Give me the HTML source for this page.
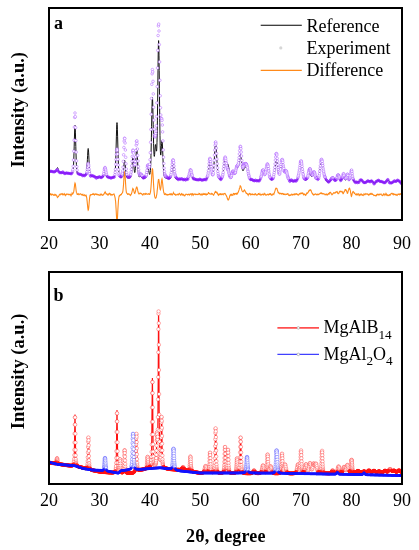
<!DOCTYPE html>
<html><head><meta charset="utf-8"><style>
html,body{margin:0;padding:0;background:#fff;width:419px;height:550px;overflow:hidden}
svg{display:block}
</style></head><body>
<svg width="419" height="550" viewBox="0 0 419 550">
<defs><marker id="mE" markerWidth="6" markerHeight="6" refX="3" refY="3" markerUnits="userSpaceOnUse"><circle cx="3" cy="3" r="1.3" fill="#fff" stroke="#8c1aff" stroke-width="0.35"/></marker><marker id="mE2" markerWidth="6" markerHeight="6" refX="3" refY="3" markerUnits="userSpaceOnUse"><circle cx="3" cy="3" r="1.0" fill="none" stroke="#8c1aff" stroke-width="0.35"/></marker><marker id="mR" markerWidth="6" markerHeight="6" refX="3" refY="3" markerUnits="userSpaceOnUse"><circle cx="3" cy="3" r="1.7" fill="#fff" stroke="#ff1010" stroke-width="0.35"/></marker><marker id="mR2" markerWidth="6" markerHeight="6" refX="3" refY="3" markerUnits="userSpaceOnUse"><circle cx="3" cy="3" r="1.4" fill="none" stroke="#ff1010" stroke-width="0.4"/></marker><marker id="mB" markerWidth="6" markerHeight="6" refX="3" refY="3" markerUnits="userSpaceOnUse"><circle cx="3" cy="3" r="1.7" fill="#fff" stroke="#1010ff" stroke-width="0.3"/></marker><marker id="mB2" markerWidth="6" markerHeight="6" refX="3" refY="3" markerUnits="userSpaceOnUse"><circle cx="3" cy="3" r="0.85" fill="none" stroke="#1010ff" stroke-width="0.35"/></marker><clipPath id="ca"><rect x="50" y="9" width="351" height="210"/></clipPath><clipPath id="cb"><rect x="50" y="273" width="351" height="210"/></clipPath></defs>
<g clip-path="url(#ca)" fill="none">
<path stroke="#ff8a1a" stroke-width="1.1" d="M49.2,194.5l.2-.1 .2-.1 .2-.5 .2,.1 .2-.1 .2-.1 .2,.8 .2,.1 .2,.3 .2,0 .2,.1 .2-.9 .2-.1 .2,.1 .2,0 .2,.4 .2,.1 .2,.1 .2,.2 .2,.2 .2-.3 .2,0 .2,.1 .2,.1 .2-.2 .2,.1 .2,.2 .2-.2 .2-.5 .2,.3 .2,.2 .2-.1 .2,.4 .2-.3 .2,.3 .2,0 .2,0 .2,.4 .2,1.2 .2,0 .2,.2 .2,.4 .2-.3 .2-.2 .2-.2 .2-.2 .2-.2 .2-.4 .2-.7 .2-.2 .2-.1 .2-.3 .2-.2 .2,.3 .2-.7 .2,0 .2,.2 .2-.2 .2,0 .2,.3 .2,0 .2-.5 .2,.1 .2,.1 .2,.4 .2-.5 .2,.3 .2,.2 .2-.3 .2,.1 .2,.2 .2,.2 .2-.3 .2,.4 .2-.3 .2,.2 .2-.5 .2,.6 .2-.1 .2,.1 .2,.3 .2,.4 .2-.4 .2-.4 .2-.3 .2,.1 .2-.4 .2,0 .2,.1 .2,.2 .2-.1 .2,0 .2-.2 .2,0 .2,.2 .2,.1 .2,.3 .2,.2 .2,.1 .2-.3 .2,0 .2-.2 .2,.1 .2-.1 .2,.1 .2-.1 .2,.7 .2,.2 .2,.4 .2-.6 .2-.1 .2-.6 .2-.3 .2-.7 .2,.6 .2,.2 .2-.2 .2-.4 .2,0 .2-.6 .2-.6 .2-.2 .2-1 .2-1.2 .2-1.7 .2-1.6 .2-1.9 .2-.9 .2-.8 .2,.4 .2,.6 .2,1.9 .2,1.6 .2,1.9 .2,1.5 .2,1.4 .2,.4 .2,.3 .2,.5 .2,.8 .2,0 .2,.1 .2,0 .2-.3 .2-.4 .2,.2 .2,.2 .2,.3 .2,.3 .2-.1 .2-.4 .2-.1 .2-.1 .2-.1 .2-.2 .2,.2 .2,0 .2,.2 .2,.1 .2,0 .2,.4 .2,.2 .2,.1 .2-.3 .2,.2 .2-.2 .2-.1 .2-.2 .2,.7 .2,0 .2,.1 .2,.3 .2-.2 .2-.2 .2,0 .2-.2 .2,.2 .2,.3 .2,.4 .2-.1 .2,.1 .2-.3 .2,0 .2-.3 .2,.4 .2,.6 .2,1.1 .2,.9 .2,1.9 .2,1.8 .2,2.1 .2,1.9 .2,2 .2,1.4 .2,.8 .2-.3 .2-1.2 .2-1.6 .2-2.4 .2-2.4 .2-2.1 .2-2 .2-1.4 .2-1.2 .2-.4 .2-.3 .2,.4 .2-.3 .2,.1 .2-.1 .2-.2 .2-.2 .2,0 .2,.1 .2-.2 .2,0 .2,0 .2-.5 .2,0 .2-.2 .2,.4 .2,.3 .2,0 .2,0 .2,.3 .2-.5 .2-.1 .2,.3 .2-.4 .2-.1 .2,.2 .2-.1 .2-.1 .2,.5 .2,.1 .2-.2 .2-.1 .2,.2 .2-.2 .2,.2 .2,.3 .2-.1 .2-.2 .2,.1 .2,.1 .2,0 .2,.2 .2,.3 .2,0 .2,0 .2-.1 .2,.1 .2-.1 .2,.2 .2-.7 .2,.4 .2-.2 .2,0 .2-.3 .2,.1 .2-.3 .2,.3 .2,.1 .2,.4 .2,.3 .2-.1 .2-.1 .2,0 .2-.3 .2-.1 .2,.1 .2-.3 .2-.5 .2-.1 .2-.1 .2-.7 .2-.4 .2-.2 .2,.1 .2-.7 .2,.3 .2,.6 .2,.2 .2,.5 .2,.7 .2,.1 .2,0 .2,0 .2-.3 .2,.3 .2,0 .2,.3 .2,.3 .2,.3 .2-.3 .2-.3 .2-.5 .2,.1 .2-.4 .2-.3 .2,.5 .2,0 .2-.3 .2,.1 .2,.4 .2-.2 .2,.4 .2,.6 .2,.2 .2-.4 .2-.2 .2-.2 .2-.1 .2,.1 .2,.3 .2,.2 .2,.1 .2-.2 .2-.1 .2-.4 .2-.2 .2-.1 .2,0 .2-.1 .2,.5 .2,.4 .2,1 .2,.8 .2,.7 .2,1.1 .2,1.6 .2,1.4 .2,2.9 .2,3.3 .2,3.1 .2,4 .2,3.4 .2,1.4 .2,0 .2,0 .2-.8 .2-3.5 .2-4.2 .2-3.4 .2-3.1 .2-3.2 .2-1.9 .2-1.4 .2-1.5 .2-.6 .2-.3 .2,.2 .2-.4 .2-.1 .2-.1 .2-.3 .2-.4 .2,0 .2,.3 .2-.3 .2,0 .2-.7 .2-.3 .2-.1 .2-.2 .2-.5 .2-.3 .2-.7 .2-1.5 .2-2 .2-2.1 .2-2.5 .2-3.2 .2-3.3 .2-2.3 .2-2 .2-.8 .2,.4 .2,2.1 .2,2.6 .2,3.1 .2,3.4 .2,3.1 .2,2.6 .2,1.8 .2,1.4 .2,.3 .2,.5 .2,.2 .2,.1 .2,.3 .2,.4 .2-.1 .2-.3 .2,.3 .2-.1 .2,0 .2-.2 .2,.2 .2,0 .2,.1 .2,0 .2,.5 .2,.3 .2-.1 .2,0 .2,.4 .2-.3 .2-.3 .2-.6 .2-.2 .2-.7 .2-.3 .2-1.3 .2-.5 .2-1 .2-.8 .2-.8 .2,.3 .2,.2 .2,.2 .2,.7 .2,.9 .2,.9 .2,.6 .2,.7 .2,.4 .2,.1 .2-.6 .2-.6 .2-.5 .2-1 .2-1.2 .2-.8 .2-.5 .2-.9 .2-.1 .2-.2 .2,.5 .2,.3 .2,.9 .2,.9 .2,1.2 .2,.6 .2,.8 .2,.8 .2,.2 .2,.2 .2,.5 .2-.1 .2-.3 .2-.2 .2,0 .2-.2 .2,.3 .2-.1 .2,.1 .2,0 .2-.2 .2,.1 .2,.4 .2,.1 .2,0 .2,.2 .2,.3 .2,.5 .2,.1 .2,.1 .2-.4 .2-.3 .2-.5 .2-.2 .2,.2 .2,.1 .2-.1 .2,0 .2,0 .2,0 .2,.5 .2-.2 .2-.3 .2,.3 .2-.2 .2-.5 .2,.2 .2,.2 .2-.2 .2,0 .2,.2 .2,.3 .2,.1 .2,0 .2,0 .2,.1 .2-.2 .2-.4 .2,.1 .2-.1 .2,.1 .2,0 .2,.3 .2-.1 .2,.2 .2-.6 .2-.5 .2-.8 .2-1.3 .2-1.9 .2-2.2 .2-2.6 .2-2.8 .2-3.5 .2-3.5 .2-3 .2-2 .2-1.3 .2,.7 .2,2 .2,3.2 .2,3.4 .2,3.7 .2,3.3 .2,3.1 .2,2.7 .2,2.1 .2,1.8 .2,1.7 .2,.9 .2,.5 .2,.6 .2,.3 .2,0 .2-.4 .2-.2 .2-.4 .2-1.1 .2-1 .2-.9 .2-1.5 .2-2.2 .2-1.5 .2-2.1 .2-2 .2-2.1 .2-1.6 .2-1.6 .2-.1 .2-.1 .2,1 .2,1.7 .2,1.5 .2,1.9 .2,1.8 .2,1.2 .2,1 .2,.2 .2-.8 .2-.8 .2-1.2 .2-2.3 .2-2.2 .2-1.7 .2-1.2 .2-.6 .2,.8 .2,1.9 .2,1.6 .2,1.7 .2,2.1 .2,1.9 .2,1.4 .2,1.3 .2,.9 .2,.4 .2,.6 .2,.8 .2,.1 .2-.4 .2,.1 .2-.2 .2-.2 .2,.4 .2,.3 .2-.1 .2,.2 .2-.4 .2,0 .2,.1 .2,.4 .2-.1 .2,.4 .2-.1 .2-.1 .2-.1 .2-.2 .2,0 .2,0 .2,.2 .2-.2 .2-.2 .2-.1 .2-.1 .2-.1 .2,.4 .2,.2 .2,0 .2-.4 .2,.2 .2-.2 .2-.4 .2,.2 .2,.5 .2-.1 .2-.1 .2,.7 .2-.1 .2-.6 .2-.2 .2-.1 .2-.5 .2-.7 .2,.5 .2,0 .2,.2 .2,.1 .2,.7 .2-.1 .2,.1 .2,.1 .2,.3 .2-.2 .2,.4 .2,.2 .2-.2 .2,0 .2-.1 .2-.1 .2-.1 .2,.2 .2-.6 .2,0 .2,0 .2,.2 .2-.1 .2,.2 .2,.2 .2-.5 .2-.2 .2-.1 .2,0 .2-.3 .2,.3 .2,.2 .2,0 .2,.5 .2,.3 .2,.3 .2,0 .2-.1 .2-.6 .2-.2 .2-.7 .2-.1 .2,.2 .2,.6 .2,.3 .2,.3 .2,.2 .2-.3 .2-.2 .2-.2 .2,.3 .2,.4 .2,.4 .2,.3 .2,.1 .2-.3 .2-.2 .2,.1 .2-.6 .2,0 .2-.2 .2-.3 .2-.2 .2,.1 .2-.1 .2,0 .2,.1 .2,0 .2,.1 .2,.2 .2,0 .2,.3 .2-.2 .2-.1 .2,.1 .2-.2 .2-.4 .2,0 .2,.1 .2,.2 .2,.5 .2-.4 .2,0 .2,0 .2-.3 .2-.3 .2,0 .2,.2 .2,0 .2,0 .2-.1 .2,.7 .2-.7 .2-.2 .2,.5 .2,.3 .2-.3 .2,.3 .2,.4 .2-.7 .2,.1 .2-.1 .2,.1 .2-.1 .2-.1 .2-.1 .2-.1 .2,.2 .2-.1 .2,.4 .2,.1 .2-.1 .2,0 .2-.2 .2,0 .2,0 .2,.2 .2,.1 .2-.1 .2,0 .2-.2 .2,0 .2,.3 .2-.1 .2-.2 .2-.1 .2-.1 .2-.6 .2,.2 .2-.1 .2,.3 .2,.4 .2,.4 .2,.2 .2,.1 .2-.1 .2-.5 .2-.4 .2-.1 .2,.3 .2,.2 .2,0 .2,.7 .2-.1 .2-.4 .2-.4 .2,0 .2-.4 .2,.5 .2,.1 .2,0 .2,.1 .2,0 .2-.8 .2,.1 .2,.3 .2,.2 .2,.2 .2,.1 .2-.4 .2,.1 .2,.2 .2-.5 .2,.3 .2,.4 .2-.2 .2-.2 .2,.2 .2,0 .2,0 .2-.2 .2-.4 .2-.6 .2-.3 .2-.4 .2,0 .2,.4 .2,.5 .2,0 .2,.3 .2,.1 .2-.3 .2,.1 .2,.2 .2,.1 .2,.1 .2,.1 .2,.1 .2-.2 .2-.2 .2-.4 .2,.3 .2-.3 .2,.2 .2,0 .2,.4 .2,.3 .2,.2 .2,.2 .2,.3 .2,.1 .2-.5 .2-.5 .2-.2 .2-.3 .2-.9 .2-.3 .2-.2 .2-.4 .2-.3 .2,.5 .2,.3 .2,0 .2-.1 .2,.3 .2-.5 .2,0 .2,.5 .2,.4 .2,.1 .2,.7 .2,.4 .2,.4 .2,.2 .2,.4 .2-.2 .2-.2 .2-.5 .2,.2 .2-.4 .2-.1 .2,0 .2,.3 .2-.5 .2,.2 .2,.2 .2,.1 .2-.3 .2,.3 .2,0 .2,.3 .2,0 .2-.1 .2-.5 .2,.1 .2-.1 .2-.1 .2,.4 .2,.3 .2-.4 .2-.2 .2-.1 .2-.1 .2-.2 .2,.2 .2-.2 .2,.1 .2-.2 .2,.3 .2,.1 .2,.6 .2,.2 .2,.4 .2,.3 .2,.4 .2,.6 .2,.2 .2,.5 .2,.8 .2,.9 .2,0 .2,.8 .2,.4 .2,0 .2-.4 .2,.1 .2-.5 .2-.3 .2-.9 .2-.3 .2-1 .2-.7 .2-.6 .2-.2 .2-.4 .2-.2 .2,.5 .2-.2 .2-.2 .2-.1 .2,.4 .2-.6 .2,.1 .2,.6 .2,.2 .2-.2 .2,0 .2,0 .2-.7 .2-.8 .2-.2 .2-.1 .2,.2 .2,.3 .2,.4 .2-.2 .2,.3 .2-.6 .2-.2 .2,0 .2,.2 .2-.2 .2,.1 .2,.2 .2,.3 .2-.5 .2,.4 .2-.1 .2-.1 .2-.6 .2,.2 .2-.6 .2-.3 .2-.4 .2-.1 .2-.8 .2-.6 .2-.5 .2-.7 .2-.9 .2-.5 .2-.6 .2-.8 .2-.7 .2,.2 .2,.1 .2,.4 .2,.5 .2,1 .2,.7 .2,.6 .2,.7 .2,.6 .2,.5 .2,.1 .2,.1 .2,.3 .2,.2 .2-.4 .2-.3 .2-.1 .2-.5 .2-.1 .2-.2 .2-.3 .2,.6 .2,.3 .2,0 .2,.2 .2,.7 .2,.1 .2,.5 .2,.6 .2,.2 .2,.1 .2-.1 .2,.2 .2,.1 .2,0 .2,.8 .2,0 .2,.2 .2,.1 .2,.6 .2-.5 .2-.4 .2-.3 .2,0 .2-.4 .2-.2 .2,.1 .2,.5 .2-.1 .2,0 .2,.2 .2,.5 .2-.5 .2-.1 .2,.2 .2,.1 .2,.3 .2,.2 .2,0 .2,0 .2-.2 .2-.5 .2,.2 .2,0 .2,0 .2,.2 .2,.1 .2-.1 .2,.1 .2,0 .2-.1 .2,.1 .2-.6 .2-.1 .2-.2 .2,.1 .2,.2 .2,.4 .2,0 .2,.5 .2,0 .2,.1 .2,.1 .2,0 .2-.3 .2-.1 .2-.1 .2,0 .2-.2 .2-.3 .2-.5 .2,0 .2,.2 .2,.4 .2,.2 .2,0 .2,.2 .2-.1 .2-.6 .2,.5 .2,.3 .2,.1 .2,0 .2,.4 .2-.1 .2-.2 .2-.3 .2-.2 .2-.1 .2-.2 .2-.1 .2,.1 .2,.4 .2,.1 .2,.4 .2,0 .2-.2 .2-.4 .2-.3 .2-.6 .2,.3 .2,.2 .2-.1 .2,0 .2,.7 .2,0 .2,.2 .2,.4 .2,0 .2-.2 .2,0 .2,0 .2-.3 .2-.2 .2,0 .2,0 .2-.2 .2,.3 .2,.2 .2-.2 .2,.4 .2,0 .2-.5 .2-.3 .2,.3 .2-.1 .2-.6 .2,0 .2,.3 .2-.5 .2,0 .2,.5 .2,.3 .2-.2 .2,.3 .2,.3 .2-.2 .2,.1 .2,.5 .2-.1 .2-.4 .2-.1 .2-.5 .2-.2 .2,0 .2,.1 .2,.2 .2,.2 .2-.6 .2-.7 .2-.6 .2-.5 .2-.7 .2-.7 .2-.4 .2-.8 .2-.6 .2-.6 .2,0 .2-.1 .2,.3 .2,.3 .2,.2 .2-.1 .2,.5 .2,.7 .2,.6 .2,.7 .2,1.1 .2,.3 .2-.1 .2-.1 .2,.4 .2,0 .2,.6 .2,.1 .2,.1 .2,.2 .2,0 .2-.6 .2,0 .2-.1 .2,0 .2,.2 .2,.2 .2,.1 .2,.3 .2-.3 .2-.3 .2-.1 .2,.1 .2,.2 .2,0 .2,.4 .2,.5 .2-.1 .2-.4 .2,.3 .2,.1 .2-.4 .2,.3 .2,.2 .2,0 .2-.1 .2,.2 .2-.3 .2-.1 .2,0 .2-.1 .2,0 .2,.3 .2,0 .2,0 .2,0 .2-.4 .2-.2 .2-.1 .2-.1 .2,.1 .2,.5 .2,.3 .2,.6 .2,.3 .2,0 .2,.1 .2,.1 .2-.4 .2-.2 .2,.3 .2-.3 .2-.1 .2,.2 .2,.1 .2-.3 .2,0 .2-.2 .2,0 .2-.5 .2,.2 .2,.1 .2,.2 .2-.1 .2,.4 .2-.2 .2-.4 .2-.2 .2,0 .2,.1 .2-.1 .2,.4 .2-.2 .2-.2 .2-.2 .2,.5 .2-.4 .2-.1 .2,.3 .2-.1 .2-.4 .2-.1 .2,.3 .2-.1 .2,.2 .2-.1 .2,.6 .2,.1 .2-.1 .2,0 .2,.3 .2,0 .2,.2 .2-.1 .2-.3 .2-.1 .2-.7 .2-.1 .2-.2 .2,.4 .2,0 .2-.1 .2,0 .2-.3 .2-.5 .2,.1 .2,0 .2-.1 .2,.5 .2,.1 .2-.1 .2-.2 .2-.3 .2,.3 .2,0 .2,0 .2,.6 .2,.6 .2-.3 .2,.1 .2,.2 .2-.5 .2-.1 .2,.2 .2,.1 .2,.2 .2,.3 .2,.3 .2,.2 .2-.4 .2,0 .2-.4 .2-.7 .2-.3 .2,.1 .2-.4 .2,.3 .2-.1 .2-.5 .2-.1 .2,0 .2-.5 .2-.6 .2-.3 .2-.5 .2-.3 .2-.3 .2,.2 .2,.2 .2-.2 .2-.4 .2,0 .2-.2 .2,0 .2,.5 .2,0 .2,.5 .2,.7 .2,.6 .2,.1 .2,.6 .2,.5 .2,.3 .2-.1 .2,.4 .2,.4 .2-.2 .2,.1 .2,.7 .2,.1 .2-.3 .2-.1 .2-.2 .2-.2 .2,0 .2-.2 .2,0 .2,.1 .2-.1 .2-.1 .2,.4 .2,.1 .2,0 .2,0 .2,.3 .2-.3 .2,.1 .2,0 .2-.4 .2-.1 .2,.2 .2,.2 .2-.1 .2,.2 .2-.1 .2-.3 .2-.3 .2,.1 .2,0 .2-.3 .2,0 .2-.5 .2,0 .2-.2 .2,.2 .2-.2 .2,.3 .2-.1 .2,.3 .2-.3 .2,.4 .2,.1 .2-.2 .2,0 .2,.3 .2-.2 .2,0 .2,.3 .2-.1 .2,.1 .2-.1 .2,.1 .2,.1 .2,.3 .2,0 .2,.5 .2,.1 .2-.3 .2-.1 .2-.2 .2-.2 .2,.3 .2,.1 .2-.1 .2,.6 .2,0 .2-.2 .2,.2 .2,0 .2-.5 .2,0 .2-.6 .2,.1 .2-.3 .2-.3 .2-.1 .2,.4 .2-.7 .2,.2 .2-.2 .2-.4 .2-.3 .2,0 .2,.1 .2,.4 .2,.3 .2,.7 .2,.4 .2,.1 .2,0 .2,.4 .2-.3 .2-.1 .2-.1 .2-.2 .2-.5 .2-.2 .2-.2 .2-.2 .2-.3 .2,0 .2,.2 .2,.2 .2,.2 .2-.1 .2,0 .2-.2 .2-.7 .2,0 .2,0 .2,.1 .2-.5 .2,0 .2,.1 .2-.2 .2-.1 .2,.5 .2,.5 .2-.1 .2,.7 .2,.4 .2,.2 .2,0 .2-.2 .2-.2 .2-.6 .2-.3 .2-.7 .2,0 .2-.5 .2,0 .2-.1 .2,.2 .2,0 .2,.5 .2,.1 .2,0 .2,0 .2-.2 .2-.5 .2,0 .2,.2 .2,.6 .2,.5 .2,.4 .2,.6 .2,0 .2-.2 .2-.5 .2-.2 .2-.8 .2-.2 .2-.3 .2-.5 .2-.6 .2,.1 .2-.9 .2,0 .2,.2 .2,.4 .2-.1 .2,.4 .2,.3 .2,.5 .2,.5 .2,.4 .2,1 .2,.1 .2,.1 .2-.7 .2-.6 .2-1.1 .2-.6 .2-.6 .2-.5 .2-.6 .2,0 .2-.1 .2-.2 .2,.7 .2,.9 .2,.1 .2,1 .2,1.4 .2,1.2 .2,.8 .2,1.7 .2,.3 .2-.4 .2-.7 .2-.8 .2-1.1 .2-.5 .2-.7 .2-.2 .2-.3 .2-.2 .2,.3 .2,.3 .2,.3 .2,.4 .2,.4 .2-.1 .2,.3 .2-.1 .2,.3 .2,.4 .2,.3 .2,.1 .2,.3 .2,.2 .2-.3 .2-.5 .2,.3 .2,.2 .2-.2 .2,.3 .2,.1 .2-.5 .2-.2 .2-.3 .2,.1 .2,0 .2,.4 .2,.3 .2,.7 .2-.2 .2,.3 .2-.3 .2-.5 .2-.3 .2,.4 .2-.3 .2,.3 .2,.1 .2-.3 .2-.3 .2,.4 .2-.1 .2,.1 .2,.4 .2-.1 .2-.1 .2,.3 .2,.2 .2,.1 .2,.1 .2-.4 .2-.4 .2-.5 .2-.4 .2,.3 .2,.4 .2,0 .2,.3 .2-.1 .2-.2 .2-.5 .2-.2 .2-.2 .2,.3 .2,0 .2,.1 .2,.1 .2,0 .2-.1 .2,.1 .2-.2 .2,.3 .2,.1 .2,.4 .2,.1 .2,.3 .2-.2 .2-.4 .2-.3 .2,.1 .2,.3 .2-.4 .2,.2 .2,0 .2-.5 .2-.3 .2,.5 .2,0 .2,.1 .2-.1 .2-.2 .2-.2 .2,.3 .2-.4 .2,.3 .2,.4 .2,.1 .2,0 .2,.2 .2,.1 .2,.1 .2,.4 .2,0 .2,.4 .2-.1 .2-.1 .2-.1 .2-.1 .2,0 .2,.2 .2,.4 .2,.1 .2-.2 .2,0 .2,0 .2-.3 .2-.5 .2,.3 .2-.6 .2-.3 .2-.2 .2,.1 .2,0 .2,.4 .2,.2 .2,.1 .2-.5 .2-.1 .2-.1 .2,0 .2,.4 .2,.3 .2-.1 .2-.5 .2,.1 .2-.3 .2-.1 .2,.1 .2,.2 .2-.2 .2,.4 .2,.3 .2,.1 .2,.4 .2,.2 .2-.3 .2,.3 .2-.2 .2,0 .2-.2 .2-.1 .2-1 .2-.3 .2,.1 .2,.4 .2,0 .2,.4 .2,.5 .2-.5 .2,.1 .2-.1 .2-.2 .2-.6 .2,.5 .2-.4 .2,.5 .2,0 .2,.6 .2-.3 .2,.1 .2,0 .2,.7 .2,.2 .2-.1 .2,.1 .2-.1 .2-.3 .2-.2 .2,.2 .2-.4 .2-.2 .2,.2 .2-.3 .2-.1 .2,.4 .2-.4 .2-.3 .2-.2 .2-.1 .2-.4 .2,.1 .2-.1 .2,.3 .2,0 .2-.2 .2,.5 .2,.1 .2-.2 .2-.1 .2,.6 .2-.5 .2-.1 .2,.2 .2,.2 .2-.2 .2,.3 .2,.1 .2,.1 .2,.1 .2,.2 .2-.4 .2,0 .2,.1 .2-.3 .2,.1 .2,.7 .2,0 .2,0 .2,0 .2,.2 .2-.5 .2-.2 .2-.3 .2,.1 .2-.1 .2-.3 .2,0 .2,.4 .2,.1 .2-.4 .2,.2 .2,.3 .2-.2 .2-.3 .2,.2 .2-.2 .2-.2 .2,.2 .2-.2 .2,.1 .2,.3 .2,0"/>
<path stroke="#111" stroke-width="1" d="M49.2,171.1l.2,0 .2,0 .2,.1 .2,0 .2,0 .2,0 .2,.1 .2,0 .2,0 .2,0 .2,.1 .2,0 .2,0 .2,0 .2,.1 .2,0 .2,0 .2,0 .2,.1 .2,0 .2,0 .2,0 .2,0 .2,.1 .2,0 .2,0 .2,0 .2,0 .2,0 .2,0 .2,0 .2-.1 .2-.2 .2-.2 .2-.3 .2-.5 .2-.6 .2-.7 .2-.6 .2-.5 .2-.3 .2,0 .2,.4 .2,.5 .2,.7 .2,.7 .2,.7 .2,.5 .2,.4 .2,.3 .2,.2 .2,.1 .2,.1 .2,.1 .2,0 .2,0 .2,.1 .2,0 .2,0 .2,.1 .2,0 .2,0 .2,.1 .2,0 .2,0 .2,0 .2,.1 .2,0 .2,0 .2,.1 .2,0 .2,0 .2,0 .2,.1 .2,0 .2,0 .2,0 .2,0 .2,.1 .2,0 .2,0 .2,0 .2,.1 .2,0 .2,0 .2,0 .2,.1 .2,0 .2,0 .2,0 .2,0 .2,.1 .2,0 .2,0 .2,0 .2,0 .2,0 .2,0 .2,.1 .2,0 .2,0 .2,0 .2,0 .2,0 .2,0 .2,0 .2,0 .2,0 .2,0 .2-.1 .2,0 .2,0 .2-.1 .2-.1 .2-.1 .2-.2 .2-.3 .2-.5 .2-.8 .2-1.5 .2-2.3 .2-3.4 .2-4.8 .2-6 .2-7.1 .2-7.4 .2-6.8 .2-4.8 .2-1.8 .2,1.8 .2,4.9 .2,6.8 .2,7.5 .2,7.1 .2,6.1 .2,4.8 .2,3.5 .2,2.3 .2,1.5 .2,1 .2,.5 .2,.4 .2,.2 .2,.2 .2,.1 .2,.1 .2,.1 .2,.1 .2,0 .2,.1 .2,0 .2,.1 .2,0 .2,.1 .2,0 .2,.1 .2,0 .2,0 .2,.1 .2,0 .2,0 .2,.1 .2,0 .2,0 .2,.1 .2,0 .2,0 .2,0 .2,0 .2,.1 .2,0 .2,0 .2,0 .2,0 .2,0 .2,0 .2,0 .2,0 .2,0 .2-.1 .2,0 .2-.1 .2-.2 .2-.3 .2-.5 .2-.9 .2-1.4 .2-2 .2-2.7 .2-3.3 .2-4 .2-4 .2-3.7 .2-2.6 .2-.9 .2,1 .2,2.6 .2,3.7 .2,4.1 .2,4 .2,3.4 .2,2.8 .2,2 .2,1.4 .2,1 .2,.5 .2,.4 .2,.2 .2,.2 .2,.1 .2,.1 .2,0 .2,.1 .2,.1 .2,0 .2,.1 .2,0 .2,0 .2,.1 .2,0 .2,.1 .2,0 .2,0 .2,.1 .2,0 .2,0 .2,.1 .2,0 .2,0 .2,0 .2,.1 .2,0 .2,0 .2,.1 .2,0 .2,0 .2,0 .2,.1 .2,0 .2,0 .2,0 .2,.1 .2,0 .2,0 .2,0 .2,.1 .2,0 .2,0 .2,0 .2,0 .2,.1 .2,0 .2,0 .2,0 .2,0 .2,0 .2,0 .2,0 .2,0 .2,0 .2,0 .2,0 .2,0 .2,0 .2,0 .2,0 .2-.1 .2-.1 .2-.1 .2-.2 .2-.4 .2-.5 .2-.7 .2-.9 .2-1 .2-1 .2-.9 .2-.6 .2-.2 .2,.2 .2,.7 .2,.9 .2,1 .2,1 .2,.8 .2,.8 .2,.5 .2,.4 .2,.2 .2,.2 .2,.1 .2,0 .2,.1 .2,0 .2,0 .2,0 .2,.1 .2,0 .2,0 .2,0 .2,0 .2,0 .2,0 .2,0 .2,0 .2,0 .2,0 .2,0 .2,0 .2,0 .2,0 .2-.1 .2,0 .2,0 .2,0 .2,0 .2-.1 .2,0 .2-.1 .2,0 .2-.1 .2-.1 .2-.1 .2-.1 .2-.2 .2-.3 .2-.5 .2-.9 .2-1.3 .2-2.1 .2-3.1 .2-4.3 .2-5.6 .2-6.9 .2-7.7 .2-7.8 .2-7 .2-4.9 .2-1.7 .2,1.8 .2,4.8 .2,7 .2,7.8 .2,7.7 .2,6.9 .2,5.7 .2,4.3 .2,3.1 .2,2.1 .2,1.3 .2,.9 .2,.5 .2,.3 .2,.2 .2,.2 .2,.1 .2,0 .2,.1 .2,0 .2,.1 .2,0 .2,0 .2,0 .2-.1 .2-.2 .2-.2 .2-.4 .2-.7 .2-1 .2-1.4 .2-1.8 .2-2.2 .2-2.5 .2-2.5 .2-2.2 .2-1.5 .2-.6 .2,.6 .2,1.6 .2,2.2 .2,2.5 .2,2.5 .2,2.2 .2,1.9 .2,1.4 .2,1 .2,.7 .2,.5 .2,.2 .2,.2 .2,.1 .2,.1 .2,0 .2,.1 .2,0 .2,0 .2,0 .2,0 .2,0 .2,0 .2,0 .2-.1 .2,0 .2-.1 .2,0 .2-.2 .2-.2 .2-.4 .2-.6 .2-.9 .2-1.3 .2-1.7 .2-2.3 .2-2.7 .2-3.1 .2-3 .2-2.7 .2-1.8 .2-.7 .2,.6 .2,1.8 .2,2.6 .2,2.9 .2,2.8 .2,2.5 .2,1.8 .2,1.2 .2,.2 .2-.6 .2-1.5 .2-2.3 .2-3.2 .2-3.8 .2-4.1 .2-3.8 .2-3.1 .2-1.7 .2,.1 .2,1.7 .2,3.2 .2,3.9 .2,4.1 .2,4 .2,3.4 .2,2.8 .2,2 .2,1.5 .2,.9 .2,.5 .2,.3 .2,0 .2,0 .2-.2 .2-.2 .2-.2 .2-.1 .2,0 .2,.1 .2,.2 .2,.2 .2,.3 .2,.3 .2,.3 .2,.2 .2,.2 .2,.1 .2,.1 .2,0 .2,.1 .2,0 .2,0 .2,0 .2,0 .2,0 .2,0 .2-.1 .2,0 .2,0 .2-.1 .2,0 .2-.1 .2-.1 .2-.2 .2-.4 .2-.4 .2-.6 .2-.9 .2-1.1 .2-1.2 .2-1.4 .2-1.4 .2-1.2 .2-.9 .2-.4 .2,.2 .2,.7 .2,1.1 .2,1.2 .2,1.2 .2,1 .2,.7 .2,.5 .2-.1 .2-.5 .2-1.3 .2-2.2 .2-3.4 .2-4.9 .2-6.6 .2-8.4 .2-9.8 .2-10.8 .2-10.6 .2-9.3 .2-6.5 .2-2.4 .2,2.2 .2,6.1 .2,8.9 .2,10 .2,9.9 .2,8.7 .2,6.6 .2,4.4 .2,2 .2-.1 .2-1.6 .2-2.7 .2-3 .2-2.6 .2-1.6 .2-.3 .2,1.2 .2,2 .2,2.1 .2,1.4 .2-.2 .2-2.6 .2-5.7 .2-9.2 .2-12.7 .2-15.7 .2-17.4 .2-17.5 .2-15.3 .2-10.5 .2-3.8 .2,3.9 .2,10.7 .2,15.4 .2,17.7 .2,17.8 .2,16.1 .2,13.2 .2,9.9 .2,6.3 .2,3.1 .2,.4 .2-1.6 .2-3 .2-3.6 .2-3.3 .2-2.3 .2-.6 .2,1.2 .2,3.1 .2,4.2 .2,4.9 .2,4.9 .2,4.5 .2,3.9 .2,3.1 .2,2.3 .2,1.8 .2,1.1 .2,.8 .2,.6 .2,.3 .2,.2 .2,.2 .2,.2 .2,.1 .2,.1 .2,0 .2,.1 .2,.1 .2,0 .2,.1 .2,0 .2,.1 .2,0 .2,0 .2,0 .2,.1 .2,0 .2,0 .2,0 .2,0 .2,0 .2,0 .2,0 .2,0 .2-.1 .2,0 .2-.1 .2-.2 .2-.3 .2-.4 .2-.7 .2-.9 .2-1.3 .2-1.6 .2-2 .2-2.3 .2-2.4 .2-2.3 .2-2 .2-1.3 .2-.5 .2,.5 .2,1.4 .2,2 .2,2.3 .2,2.4 .2,2.3 .2,2 .2,1.7 .2,1.3 .2,.9 .2,.7 .2,.5 .2,.3 .2,.2 .2,.1 .2,.1 .2,.1 .2,0 .2,.1 .2,0 .2,0 .2,.1 .2,0 .2,0 .2,0 .2,0 .2,.1 .2,0 .2,0 .2,0 .2,0 .2,0 .2,0 .2,0 .2,.1 .2,0 .2,0 .2,0 .2,0 .2,0 .2,0 .2,0 .2,0 .2,0 .2,0 .2,0 .2,0 .2,0 .2,0 .2,0 .2,0 .2,.1 .2,0 .2,0 .2,0 .2,0 .2,0 .2,0 .2,0 .2,0 .2,0 .2,0 .2-.1 .2,0 .2,0 .2,0 .2,0 .2,0 .2,0 .2-.1 .2,0 .2-.1 .2-.1 .2-.1 .2-.2 .2-.3 .2-.4 .2-.5 .2-.7 .2-.7 .2-.9 .2-1.1 .2-1 .2-1.1 .2-.9 .2-.8 .2-.5 .2-.2 .2,.2 .2,.5 .2,.8 .2,1 .2,1 .2,1.1 .2,1 .2,.9 .2,.8 .2,.7 .2,.5 .2,.4 .2,.3 .2,.2 .2,.1 .2,.1 .2,.1 .2,.1 .2,0 .2,0 .2,.1 .2,0 .2,0 .2,0 .2,0 .2,0 .2,0 .2,.1 .2,0 .2,0 .2,0 .2,0 .2,0 .2,0 .2,0 .2,0 .2,0 .2,0 .2,0 .2,0 .2,0 .2,0 .2,0 .2,0 .2,0 .2,0 .2,0 .2,0 .2,0 .2,0 .2,0 .2,0 .2,0 .2,0 .2,0 .2,0 .2,0 .2,0 .2,0 .2,0 .2,0 .2,0 .2,0 .2,0 .2-.1 .2,0 .2,0 .2,0 .2,0 .2,0 .2,0 .2-.1 .2,0 .2,0 .2-.1 .2,0 .2-.1 .2-.1 .2-.1 .2-.2 .2-.2 .2-.3 .2-.5 .2-.5 .2-.8 .2-.9 .2-1.2 .2-1.4 .2-1.6 .2-1.8 .2-2 .2-1.9 .2-1.9 .2-1.7 .2-1.4 .2-.9 .2-.3 .2,.2 .2,.9 .2,1.3 .2,1.6 .2,1.8 .2,1.9 .2,1.8 .2,1.7 .2,1.5 .2,1.1 .2,.9 .2,.5 .2,.2 .2-.3 .2-.6 .2-1 .2-1.6 .2-1.9 .2-2.4 .2-2.8 .2-3.2 .2-3.4 .2-3.4 .2-3.3 .2-3 .2-2.3 .2-1.5 .2-.6 .2,.6 .2,1.5 .2,2.4 .2,3 .2,3.3 .2,3.5 .2,3.4 .2,3.2 .2,2.9 .2,2.6 .2,2.1 .2,1.7 .2,1.4 .2,1 .2,.8 .2,.6 .2,.4 .2,.3 .2,.2 .2,.2 .2,.1 .2,0 .2,.1 .2,0 .2,0 .2,0 .2-.1 .2,0 .2-.2 .2-.1 .2-.3 .2-.3 .2-.5 .2-.7 .2-.8 .2-1 .2-1.3 .2-1.5 .2-1.7 .2-1.9 .2-2 .2-2 .2-2 .2-1.7 .2-1.5 .2-1 .2-.6 .2,0 .2,.4 .2,.8 .2,1 .2,1 .2,1 .2,.8 .2,.7 .2,.4 .2,.1 .2,0 .2,0 .2-.1 .2,.1 .2,.3 .2,.5 .2,.8 .2,1.1 .2,1.2 .2,1.3 .2,1.4 .2,1.3 .2,1.2 .2,1 .2,.8 .2,.7 .2,.4 .2,.2 .2,0 .2-.2 .2-.4 .2-.5 .2-.7 .2-.7 .2-.8 .2-.7 .2-.7 .2-.6 .2-.3 .2-.2 .2,.1 .2,.3 .2,.4 .2,.6 .2,.6 .2,.5 .2,.5 .2,.3 .2,.2 .2-.1 .2-.2 .2-.5 .2-.6 .2-.8 .2-.8 .2-.9 .2-.8 .2-.7 .2-.6 .2-.4 .2-.2 .2,0 .2,.1 .2,0 .2-.1 .2-.3 .2-.5 .2-.8 .2-1.1 .2-1.4 .2-1.6 .2-1.8 .2-1.7 .2-1.5 .2-1.3 .2-.8 .2-.2 .2,.4 .2,1 .2,1.4 .2,1.8 .2,2 .2,2 .2,2 .2,1.8 .2,1.5 .2,1.1 .2,.8 .2,.5 .2,.1 .2-.1 .2-.4 .2-.4 .2-.6 .2-.6 .2-.5 .2-.3 .2-.3 .2-.2 .2-.1 .2,0 .2-.1 .2-.1 .2-.1 .2-.2 .2-.2 .2-.1 .2-.1 .2,.1 .2,.3 .2,.5 .2,.7 .2,1 .2,1 .2,1.2 .2,1.1 .2,1.2 .2,1.1 .2,1 .2,.9 .2,.8 .2,.6 .2,.6 .2,.4 .2,.3 .2,.3 .2,.2 .2,.1 .2,.2 .2,0 .2,.1 .2,.1 .2,0 .2,0 .2,.1 .2,0 .2,0 .2,0 .2,0 .2,.1 .2,0 .2,0 .2,0 .2,0 .2,0 .2,0 .2,0 .2,0 .2,0 .2,0 .2,.1 .2,0 .2,0 .2,0 .2,0 .2,0 .2,0 .2,0 .2,0 .2,0 .2-.1 .2,0 .2,0 .2,0 .2,0 .2,0 .2,0 .2-.1 .2,0 .2-.1 .2,0 .2-.1 .2-.2 .2-.1 .2-.3 .2-.3 .2-.3 .2-.5 .2-.5 .2-.7 .2-.7 .2-.8 .2-.9 .2-.9 .2-.9 .2-.8 .2-.7 .2-.6 .2-.4 .2-.2 .2,.1 .2,.2 .2,.5 .2,.5 .2,.6 .2,.6 .2,.4 .2,.4 .2,.1 .2,0 .2-.3 .2-.5 .2-.8 .2-1 .2-1.2 .2-1.2 .2-1.3 .2-1.2 .2-1.1 .2-.9 .2-.5 .2-.2 .2,.2 .2,.7 .2,.9 .2,1.2 .2,1.4 .2,1.4 .2,1.5 .2,1.4 .2,1.4 .2,1.2 .2,1.1 .2,.9 .2,.8 .2,.6 .2,.5 .2,.4 .2,.3 .2,.2 .2,.1 .2,.1 .2,.1 .2,0 .2,0 .2-.1 .2-.1 .2-.1 .2-.2 .2-.3 .2-.4 .2-.5 .2-.6 .2-.8 .2-1 .2-1.2 .2-1.3 .2-1.5 .2-1.7 .2-1.7 .2-1.8 .2-1.8 .2-1.6 .2-1.5 .2-1.1 .2-.7 .2-.3 .2,.2 .2,.7 .2,1.1 .2,1.4 .2,1.6 .2,1.7 .2,1.7 .2,1.7 .2,1.4 .2,1.3 .2,1.1 .2,.8 .2,.5 .2,.2 .2-.1 .2-.4 .2-.6 .2-1 .2-1.1 .2-1.3 .2-1.5 .2-1.5 .2-1.5 .2-1.5 .2-1.2 .2-1 .2-.6 .2-.3 .2,.2 .2,.5 .2,.9 .2,1.1 .2,1.3 .2,1.3 .2,1.2 .2,1.2 .2,1 .2,.8 .2,.6 .2,.3 .2,.2 .2,0 .2-.1 .2-.2 .2-.2 .2-.2 .2-.1 .2,.1 .2,.2 .2,.4 .2,.5 .2,.7 .2,.7 .2,.8 .2,.8 .2,.8 .2,.7 .2,.7 .2,.6 .2,.5 .2,.4 .2,.4 .2,.3 .2,.3 .2,.2 .2,.1 .2,.1 .2,.1 .2,.1 .2,0 .2,.1 .2,0 .2,0 .2,.1 .2,0 .2,0 .2,0 .2,0 .2,0 .2,.1 .2,0 .2,0 .2,0 .2,0 .2,.1 .2,0 .2,0 .2,0 .2,0 .2,0 .2,0 .2,0 .2,0 .2,0 .2-.1 .2-.1 .2-.1 .2-.1 .2-.1 .2-.1 .2-.2 .2-.2 .2-.2 .2-.3 .2-.3 .2-.4 .2-.5 .2-.6 .2-.7 .2-.8 .2-1 .2-1.1 .2-1.3 .2-1.4 .2-1.5 .2-1.6 .2-1.6 .2-1.5 .2-1.5 .2-1.2 .2-.9 .2-.6 .2-.2 .2,.3 .2,.6 .2,1 .2,1.3 .2,1.5 .2,1.6 .2,1.7 .2,1.6 .2,1.6 .2,1.4 .2,1.3 .2,1.2 .2,1 .2,.8 .2,.7 .2,.5 .2,.4 .2,.4 .2,.2 .2,.1 .2,.1 .2,.1 .2,0 .2-.1 .2-.1 .2-.1 .2-.2 .2-.2 .2-.3 .2-.3 .2-.4 .2-.3 .2-.5 .2-.4 .2-.5 .2-.5 .2-.6 .2-.5 .2-.4 .2-.5 .2-.3 .2-.3 .2-.2 .2,0 .2,.1 .2,.2 .2,.4 .2,.4 .2,.4 .2,.5 .2,.3 .2,.4 .2,.2 .2,0 .2,0 .2-.2 .2-.3 .2-.4 .2-.4 .2-.5 .2-.5 .2-.5 .2-.4 .2-.2 .2-.2 .2,.1 .2,.2 .2,.3 .2,.4 .2,.6 .2,.6 .2,.6 .2,.6 .2,.6 .2,.6 .2,.5 .2,.4 .2,.4 .2,.3 .2,.1 .2,.2 .2,0 .2-.1 .2-.1 .2-.3 .2-.3 .2-.5 .2-.6 .2-.8 .2-.9 .2-1.1 .2-1.2 .2-1.3 .2-1.5 .2-1.6 .2-1.6 .2-1.5 .2-1.6 .2-1.3 .2-1.1 .2-.9 .2-.5 .2,0 .2,.3 .2,.6 .2,1 .2,1.2 .2,1.4 .2,1.4 .2,1.5 .2,1.4 .2,1.4 .2,1.3 .2,1.2 .2,1 .2,1 .2,.8 .2,.7 .2,.7 .2,.5 .2,.5 .2,.5 .2,.4 .2,.4 .2,.4 .2,.3 .2,.3 .2,.3 .2,.2 .2,.2 .2,.2 .2,.1 .2,.1 .2,0 .2,.1 .2,0 .2,0 .2-.1 .2,0 .2-.1 .2,0 .2-.1 .2-.1 .2-.2 .2-.1 .2-.3 .2-.3 .2-.3 .2-.4 .2-.5 .2-.6 .2-.5 .2-.4 .2-.4 .2-.2 .2,0 .2,.1 .2,.3 .2,.3 .2,.3 .2,.4 .2,.2 .2,.2 .2,.2 .2,.1 .2,.1 .2,0 .2,.1 .2,.1 .2,.1 .2,.1 .2,.1 .2,.1 .2,0 .2,0 .2-.1 .2-.3 .2-.5 .2-.6 .2-.7 .2-.8 .2-.8 .2-.8 .2-.5 .2-.2 .2,.2 .2,.4 .2,.7 .2,.8 .2,.8 .2,.7 .2,.7 .2,.5 .2,.3 .2,.2 .2,.2 .2,0 .2,0 .2,0 .2-.1 .2-.1 .2-.1 .2-.2 .2-.3 .2-.4 .2-.5 .2-.6 .2-.8 .2-.8 .2-.7 .2-.6 .2-.4 .2,0 .2,.3 .2,.6 .2,.8 .2,.8 .2,.8 .2,.7 .2,.6 .2,.4 .2,.3 .2,.1 .2-.1 .2-.2 .2-.4 .2-.6 .2-.7 .2-.8 .2-.7 .2-.6 .2-.3 .2,0 .2,.4 .2,.7 .2,.8 .2,.8 .2,.7 .2,.6 .2,.3 .2,0 .2-.2 .2-.5 .2-.8 .2-1 .2-1.3 .2-1.5 .2-1.7 .2-1.5 .2-1.4 .2-.9 .2-.3 .2,.4 .2,1 .2,1.4 .2,1.7 .2,1.6 .2,1.6 .2,1.3 .2,1.1 .2,.8 .2,.7 .2,.4 .2,.3 .2,.3 .2,.1 .2,.1 .2,.1 .2,0 .2,.1 .2,0 .2,0 .2,0 .2,0 .2,0 .2,.1 .2,0 .2,0 .2,0 .2,.1 .2,0 .2,0 .2,0 .2,0 .2,0 .2-.1 .2-.1 .2-.1 .2-.1 .2-.2 .2-.1 .2-.2 .2-.2 .2-.2 .2-.2 .2-.2 .2-.2 .2-.1 .2-.1 .2-.1 .2,0 .2,.1 .2,.1 .2,.1 .2,.2 .2,.2 .2,.2 .2,.3 .2,.2 .2,.3 .2,.3 .2,.2 .2,.2 .2,.2 .2,.2 .2,.1 .2,.1 .2,0 .2,0 .2-.1 .2-.1 .2-.1 .2-.2 .2-.1 .2-.2 .2-.2 .2-.1 .2-.2 .2-.1 .2-.1 .2-.1 .2-.1 .2,0 .2-.1 .2,0 .2,0 .2-.1 .2,0 .2,0 .2,0 .2,0 .2-.1 .2,0 .2-.1 .2,0 .2-.1 .2,0 .2,0 .2-.1 .2,0 .2,0 .2,.1 .2,.1 .2,.1 .2,.1 .2,.2 .2,.2 .2,.2 .2,.2 .2,.2 .2,.2 .2,.3 .2,.1 .2,.2 .2,.1 .2,.1 .2,.1 .2,0 .2-.1 .2-.1 .2-.1 .2-.2 .2-.2 .2-.2 .2-.3 .2-.3 .2-.2 .2-.3 .2-.2 .2-.2 .2-.2 .2-.1 .2-.1 .2-.1 .2,0 .2,.1 .2,0 .2,.1 .2,.1 .2,.1 .2,.2 .2,.1 .2,.2 .2,.1 .2,.1 .2,.1 .2,.1 .2,.1 .2,.1 .2,0 .2,.1 .2,0 .2,0 .2,0 .2,.1 .2,0 .2,.1 .2,0 .2,.1 .2,.1 .2,.1 .2,0 .2,.1 .2,.1 .2,0 .2,.1 .2,0 .2-.1 .2,0 .2-.1 .2-.1 .2-.2 .2-.2 .2-.2 .2-.2 .2-.2 .2-.3 .2-.2 .2-.2 .2-.2 .2-.2 .2-.1 .2-.1 .2,0 .2,0 .2,0 .2,.1 .2,.2 .2,.2 .2,.2 .2,.2 .2,.3 .2,.3 .2,.2 .2,.2 .2,.3 .2,.2 .2,.1 .2,.1 .2,.1 .2,.1 .2,0 .2-.1 .2,0 .2-.1 .2-.1 .2-.1 .2-.1 .2-.2 .2-.1 .2-.1 .2-.1 .2,0 .2-.1 .2-.1 .2,0 .2,0 .2-.1 .2,0 .2-.1 .2,0 .2-.1 .2,0 .2-.1 .2-.1 .2-.1 .2-.1 .2-.1 .2-.1 .2-.1 .2-.1 .2,0 .2-.1 .2,0 .2,.1 .2,0 .2,.1 .2,.2 .2,.2 .2,.2 .2,.2 .2,.2 .2,.3 .2,.2 .2,.3 .2,.2 .2,.2 .2,.2 .2,.1 .2,.1 .2,0 .2,0 .2-.1"/>
<path stroke="none" marker-start="url(#mE)" marker-mid="url(#mE)" marker-end="url(#mE)" d="M57.3,169.7M72.6,171.3l.3-1.6 .3-3.4 .3-6.3 .3-8.8 .3-11 .3-13.1 .3-9.7 .3-4.4 .3,3.7 .3,10.9 .3,13 .3,11.5 .3,8.8 .3,5.8 .3,3.4M86.7,173.1l.3-1.4 .3-2.3 .3-2.3 .3-2.3 .3-1.3 .3,1.1 .3,1.5 .3,3 .3,2.7 .3,1.9M103.5,174.7l.3-1.3 .3-1.9 .3-2.1 .3-1.1 .3-.8 .3,.8 .3,1.4 .3,1.5 .3,1.7 .3,1.7M114.9,174.8l.3-2.4 .3-3 .3-5 .3-4.9 .3-5.1 .3-4 .3-1.3 .3,1 .3,3.9 .3,5.3 .3,5.7 .3,4.6 .3,3.7 .3,1.8 .3,.4M121.8,175.7l.3-1.1 .3-1.5 .3-2.2 .3-3.7 .3-5.8 .3-6.6 .3-7.3 .3-6.4 .3-2.9 .3,.4 .3,4.4 .3,7 .3,7.3 .3,6.5 .3,5.2 .3,3.6 .3,2.2M130.5,175.2l.3-1.1 .3-2.1 .3-2.7 .3-3.4 .3-4.6 .3-4.8 .3-4.4 .3-2 .3,.4 .3,2.6 .3,4.2 .3,3.5 .3,2.9 .3,1.6 .3-.9 .3-2.9 .3-4.6 .3-6.4 .3-5.4 .3-3.7 .3-.5 .3,2.6 .3,5.5 .3,6.4 .3,5.6 .3,5.5 .3,3.3 .3,2.5 .3,1.3 .3,.6 .3,1 .3-.6 .3,.2 .3-.2 .3-.5 .3,.4 .3,.3 .3,.8 .3,.4M145.5,176.6l.3-.6 .3-.4 .3-1.1 .3-2.2 .3-2 .3-2.9 .3-1.8 .3-.5 .3,.3 .3,1 .3,.8 .3,.5 .3-1.1 .3-2.3 .3-4.5 .3-7.1 .3-10.4 .3-12.8 .3-15.3 .3-15.7 .3-14.2 .3-10.5 .3-4.2 .3,2.3 .3,9.4 .3,12.6 .3,13.4 .3,12.8 .3,9 .3,5.7 .3,2 .3-.1 .3-1.2 .3-2 .3-2.4 .3-5.3 .3-9.3 .3-13.6 .3-16.3 .3-18.6 .3-17.6 .3-14.9 .3-9.6 .3-1.8 .3,6.9 .3,13.6 .3,17.3 .3,18.4 .3,15.5 .3,12 .3,7.2 .3,3.2 .3,.8 .3-.2 .3,1.5 .3,4.7 .3,6.9 .3,9 .3,9 .3,7.3 .3,6.3 .3,4.6 .3,3.3 .3,2.4 .3,1.2 .3,.6 .3,.5 .3,.6 .3-.1M167.1,177M170.4,176.7l.3-1.1 .3-1.2 .3-1.8 .3-2.8 .3-2.6 .3-3 .3-2.4 .3-1.4 .3-.6 .3,.9 .3,2.1 .3,3.2 .3,3.2 .3,2.6 .3,2.3 .3,1.1 .3,1.2M188.4,177.4l.3-.9 .3-.8 .3-1.5 .3-.7 .3-1.5 .3-1.9 .3-.2 .3,.3 .3,.7 .3,1.7 .3,1.5 .3,.7 .3,1.3M207.3,176.7l.3-.5 .3-1.3 .3-2 .3-2.3 .3-3.5 .3-3.4 .3-2.9 .3-2 .3-.4 .3,1 .3,2.4 .3,2.2 .3,2.7 .3,2.7 .3,1.8 .3,1.9 .3,1.3 .3,.4 .3-.3 .3-1.7 .3-3.2 .3-4 .3-5.2 .3-5.3 .3-5 .3-4.8 .3-2.8 .3-.5 .3,1.9 .3,4.2 .3,5.4 .3,5.6 .3,4.7 .3,4.1 .3,3.5 .3,2.2 .3,1.9 .3,1.1 .3,.4 .3,.6M222,177.5l.3-.7 .3-1.3 .3-1.3 .3-1.8 .3-3.5 .3-2.6 .3-3 .3-3.2 .3-1.3 .3-1.5 .3,0 .3,1.2 .3,1.9 .3,2.1 .3,1.3 .3,2 .3,1.4 .3,.9 .3,1.3 .3,.5 .3,.1 .3,1.4 .3,1.5 .3,1 .3,1.4 .3,.9 .3-.1 .3,1.1 .3,.3 .3-.8 .3,0 .3-1.4 .3-1.7 .3-.5 .3-1.4 .3-.6 .3,.3 .3,.2 .3,.9 .3,.4 .3-.1 .3,.5 .3-.4 .3-.1 .3-.7 .3-1.6 .3-1.5 .3-1.1 .3-1.2 .3-.7 .3-.1 .3-.3 .3-.4 .3-.8 .3-1.5 .3-2.6 .3-2.7 .3-3.6 .3-3.4 .3-3 .3-1.3 .3,.5 .3,1.9 .3,3.4 .3,3.9 .3,4.5 .3,3.4 .3,2.4 .3,1.7 .3-.8 .3-.7 .3-1.4 .3-1.5 .3,.2 .3,.1 .3,.5 .3,.3 .3-.8 .3-.3 .3,.2 .3,.4 .3,.5 .3,1.4 .3,.3 .3,1.5 .3,2.4 .3,1.3 .3,1.9 .3,1.5 .3,.8 .3,1.6 .3,.8M260.7,177.8l.3-1.1 .3-.7 .3-1.5 .3-1.3 .3-1.3 .3-1.3 .3-.3 .3-.2 .3,.3 .3,1.4 .3,.4 .3,1.4 .3,1 .3-.4 .3-.5 .3-1.2 .3-1.6 .3-1.4 .3-1.6 .3-1.6 .3-1.2 .3-1.2 .3,.5 .3,.8 .3,1.2 .3,2.3 .3,2.3 .3,2.4 .3,1.5 .3,1.7 .3,.7 .3,.6M273,178.6l.3-.8 .3-1.3 .3-1.9 .3-2 .3-2.5 .3-2.8 .3-3.4 .3-3.7 .3-3.1 .3-2.8 .3-.7 .3,.1 .3,1.3 .3,3.4 .3,2.8 .3,3.5 .3,3.1 .3,2 .3,2 .3,1.6 .3,.4 .3,.4 .3-1.4 .3-2.1 .3-1.7 .3-2.7 .3-1.9 .3-2 .3-1.8 .3-1 .3-.1 .3,1.2 .3,1.7 .3,2.7 .3,2.1 .3,1.5 .3,2.2 .3,.4 .3,.1 .3,.7 .3-.6 .3-.3 .3-.1 .3-.3 .3,.7 .3,1.1 .3,1.3 .3,1.4 .3,1.2 .3,.8 .3,.9 .3,.4M297.9,177.7l.3-1.2 .3-1.3 .3-1.5 .3-1.8 .3-1.9 .3-2.4 .3-2.1 .3-2.3 .3-1.4 .3-.4 .3-.5 .3,1.2 .3,2 .3,2.3 .3,2.7 .3,2.5 .3,2.1 .3,1.3 .3,1.8 .3,1.1 .3,.4M304.8,178.9l.3,0M307.2,177.9l.3-.3 .3-1.1 .3-1.4 .3-1.7 .3-1.3 .3-1.5 .3-.9 .3-.6 .3-.4 .3,.4 .3,1.2 .3,.9 .3,1.2 .3,1.2 .3,.5 .3,.8 .3,.2 .3,0 .3-.9 .3-.6 .3-1 .3-.5 .3,.1 .3,0 .3,.9 .3,1.1 .3,1.3 .3,1.3 .3,1.2 .3,.2 .3,0 .3,.2 .3-.1M318.6,178.5l.3-1.6 .3-1.2 .3-2 .3-2.6 .3-2.8 .3-2.6 .3-3.2 .3-1.8 .3-1.1 .3-.2 .3,1 .3,1.1 .3,2.3 .3,1.9 .3,2.5 .3,2.1 .3,1.7 .3,1.8 .3,1.2 .3,1.4 .3,.3 .3,.8M331.2,179.1l.3-.4 .3-.1 .3-.4 .3-.4 .3,0 .3,.3 .3,.1M336.6,179.2l.3-1.3 .3-.6 .3-1.4 .3-.6 .3-.4 .3,.1 .3,.7 .3,.6 .3,.9 .3,1.3M342.3,177.7l.3-.6 .3-1.5 .3-1.2 .3-.7 .3,.4 .3,1.3 .3,1.7 .3,.8 .3,0 .3,.2 .3,0 .3,.1 .3,0 .3-.9 .3-1.4 .3-1.1 .3-.6 .3,.3 .3,1.2 .3,2 .3,1 .3,.9M349.5,178.7l.3-.6 .3-1.3 .3-1.5 .3-1.7 .3-1.6 .3-1.4 .3-.5 .3,1.7 .3,2 .3,2.4 .3,2.1 .3,.5"/>
<path stroke="none" marker-start="url(#mE2)" marker-mid="url(#mE2)" marker-end="url(#mE2)" d="M49.2,171.4l.3,.4 .3-.1 .3-.1 .3-.4 .3-.1 .3,.1 .3,.3 .3-.3 .3,.3 .3,.1 .3,0 .3,.4 .3-.4 .3,.2 .3,0 .3,.1 .3,0 .3,.1 .3-.4 .3-.3 .3,.1 .3-.4 .3-.4 .3,0 .3-.5 .3-.4M57.6,169.9l.3,.5 .3,.6 .3,.5 .3,.4 .3,.2 .3,.1 .3,.5 .3,.2 .3-.2 .3-.1 .3,0 .3-.1 .3,.3 .3,0 .3-.3 .3-.2 .3-.7 .3,.4 .3,.4 .3,0 .3,.8 .3,.2 .3,.1 .3,.3 .3-.1 .3-.5 .3,.1 .3,0 .3-.6 .3,.4 .3-.2 .3,.1 .3,.4 .3-.1 .3,.2 .3-.4 .3,.2 .3,0 .3,.1 .3,.1 .3,.1 .3,.1 .3-.2 .3,.3 .3,0 .3,.2 .3-.5 .3-.2 .3-.6M77.4,172.5l.3,1 .3,.4 .3-.1 .3,0 .3,.2 .3,.1 .3,.2 .3,.2 .3,.2 .3-.4 .3-.1 .3,.4 .3,.1 .3,0 .3,.5 .3-.1 .3,.6 .3,.4 .3-.4 .3-.5 .3-.1 .3,.6 .3,0 .3,.2 .3-.2 .3-.9 .3,.1 .3-.1 .3-.4 .3-.3M90,175.3l.3,.8 .3,.3 .3-.2 .3-.3 .3-.3 .3-.2 .3,.1 .3,.3 .3,.2 .3,.2 .3-.3 .3,.1 .3,0 .3,.4 .3,.7 .3-.1 .3-.2 .3,.3 .3,.1 .3,.6 .3,.8 .3-.7 .3-.1 .3-.3 .3-.3 .3,.3 .3,0 .3,0 .3-.5 .3-.1 .3-.3 .3,.1 .3,.2 .3,.3 .3,.3 .3,.1 .3,.2 .3-.2 .3-.3 .3-.2 .3-.3 .3-.1 .3-.3 .3-.5M106.8,175.8l.3,.6 .3,.7 .3-.5 .3,.5 .3,0 .3,.2 .3,.5 .3-.8 .3,.5 .3,.1 .3,0 .3,.5 .3,.1 .3-.2 .3,0 .3-.1 .3-.1 .3-.3 .3,.1 .3-.2 .3-.4 .3,.2 .3,.1 .3,.2 .3-.3 .3-.6M119.7,176.2l.3,.2 .3,.1 .3,.6 .3,.1 .3-.4 .3-.5M127.2,176.2l.3,1 .3-.3 .3,.3 .3,.2 .3-.6 .3,.6 .3-.1 .3-.3 .3,.2 .3-.8M142.5,177.2l.3,.4 .3,.1 .3,.8 .3-.6 .3-.1 .3-.1 .3-.8 .3,.2 .3,.1M166.5,177.1l.3,.1M167.4,177.6l.3,.1 .3,.6 .3,0 .3,.3 .3,0 .3-.6 .3,0 .3-.3 .3-.6M175.8,177.2l.3,.2 .3,.6 .3,.1 .3,0 .3,.6 .3,.6 .3-.3 .3,.9 .3-.3 .3-.7 .3,.4 .3-.8 .3,.5 .3,.3 .3-.1 .3,.3 .3-.7 .3-.2 .3,.4 .3-.3 .3,.3 .3,.1 .3,0 .3,.8 .3,0 .3-.2 .3-.1 .3-.5 .3,.1 .3,.4 .3,.3 .3,.2 .3,0 .3-.1 .3-.9 .3-.1 .3-.3 .3,.4 .3,.5 .3-.2 .3-.2M192.6,177.5l.3,.3 .3,1.1 .3,.3 .3-.6 .3,.4 .3-.4 .3,.3 .3,.2 .3,.3 .3,.1 .3,0 .3,.2 .3-.3 .3,.5 .3-.1 .3,.1 .3-.2 .3,0 .3,.1 .3,0 .3,.4 .3-.5 .3-.5 .3-.1 .3,0 .3,.4 .3,0 .3,.4 .3,.1 .3,0 .3,.4 .3-.2 .3-.3 .3,.1 .3-.3 .3,.3 .3-.3 .3,.2 .3-.2 .3-.3 .3,0 .3-.3 .3,.5 .3,.2 .3,.4 .3-.7 .3-.8 .3-.8M219.6,178l.3,.5 .3,.7 .3,0 .3,.6 .3-.1 .3-.8 .3-.4M249.9,178.8l.3,.7 .3,0 .3,.3 .3-.1 .3-.4 .3,.1 .3,.2 .3,.2 .3,.1 .3,.6 .3,0 .3-.4 .3,.7 .3,0 .3,0 .3,.1 .3-.4 .3-.5 .3-.1 .3,.7 .3,.1 .3,.2 .3,.1 .3-.4 .3,.1 .3,.2 .3-.2 .3,0 .3,.4 .3-.2 .3-.1 .3,.3 .3-.8 .3-.8 .3-.3M270.6,178.8l.3,0 .3,.5 .3-.1 .3,0 .3,.2 .3-.6 .3,.1M288.9,179.4l.3,1.2 .3,.6 .3,.5 .3-.3 .3-.9 .3-.1 .3-.2 .3-.5 .3,.4 .3-.2 .3,.6 .3,.5 .3,.3 .3-.2 .3,.1 .3-.2 .3,.3 .3,0 .3-.9 .3-.1 .3,.2 .3,.3 .3,.5 .3,.1 .3-.6 .3-.3 .3-.4 .3-.6 .3-.7M304.5,179.2M305.4,179.4l.3-.3 .3,.5 .3-.4 .3-.4 .3-.2M317.4,178.9l.3,.9 .3-.6 .3,.1M325.5,178.2l.3,.9 .3,.7 .3,.2 .3,.2 .3,.1 .3,.4 .3,.5 .3,.5 .3,.3 .3,.3 .3-.1 .3-.3 .3-.4 .3-.8 .3,.1 .3-.4 .3-.6 .3,0M333.6,178.8l.3,.5 .3,.3 .3,.6 .3,.4 .3,0 .3-.1 .3-.1 .3-.5 .3,0M339.9,179.3l.3,.7 .3,.9 .3-.5 .3,.1 .3-.6 .3-.7 .3-.6M349.2,179.7M353.4,180l.3-.1 .3,.8 .3,.8 .3-.2 .3,1 .3,.1 .3,.4 .3-.3 .3-.5 .3,.1 .3-.2 .3,.3 .3,.7 .3-.2 .3-.7 .3,.3 .3,0 .3,.3 .3,0 .3-1 .3-1 .3-.7 .3,0 .3,.2 .3-.2 .3,.1 .3-.1 .3,.1 .3,.6 .3,.3 .3,.5 .3,.4 .3,.5 .3,.2 .3,.2 .3,.1 .3-.5 .3,.3 .3-.3 .3,.1 .3,.3 .3-.4 .3-.1 .3-.5 .3-.2 .3-.6 .3,.3 .3-.5 .3,0 .3,.6 .3-.4 .3,.5 .3,.2 .3,.1 .3-.1 .3,.5 .3-.5 .3-.3 .3-.1 .3-.8 .3,.4 .3,.5 .3,.2 .3,.2 .3,.5 .3,.1 .3,1 .3,.7 .3,0 .3-.1 .3-.5 .3-.4 .3-.6 .3-.2 .3-.5 .3-.4 .3-.2 .3,.1 .3-.1 .3,.1 .3-.2 .3-.7 .3-.2 .3,0 .3,.2 .3,.4 .3,.6 .3,.2 .3,0 .3,.1 .3-.3 .3,0 .3,0 .3,.2 .3,.3 .3,.1 .3,.1 .3,0 .3,0 .3,.2 .3,.5 .3,.2 .3-.3 .3,.2 .3-.2 .3,0 .3,.1 .3-.9 .3-.5 .3-.4 .3-.1 .3-.1 .3-.9 .3-.3 .3-.2 .3,.4 .3,1.1 .3,1 .3,.6 .3,.4 .3,.4 .3-.6 .3,.2 .3,.1 .3-.2 .3,.5 .3-.1 .3-.3 .3-.1 .3-.3 .3-.3 .3-.1 .3,0 .3-.5 .3-.3 .3-.3 .3-.4 .3,.6 .3,0 .3,.3 .3,.1 .3,.1 .3-.4 .3,.1 .3-.6 .3-.6 .3,.2 .3-.4 .3,.5 .3,.4 .3-.1 .3,.5 .3,.2 .3-.3 .3,.6 .3,.2 .3,.7 .3,.4 .3,.6 .3,.1 .3-.5"/>
</g>
<rect x="49" y="8" width="353" height="212" fill="none" stroke="#000" stroke-width="2"/>
<g clip-path="url(#cb)" fill="none">
<path stroke="#ff1010" stroke-width="1.1" d="M49.2,462.6l.1,0 .1,0 .2,.1 .1,0 .1,0 .1,0 .1,0 .2,.1 .1,0 .1,0 .1,0 .1,0 .2,0 .1,.1 .1,0 .1,0 .1,0 .2,0 .1,0 .1,.1 .1,0 .1,0 .2,0 .1,0 .1,.1 .1,0 .1,0 .2,0 .1,0 .1,0 .1,.1 .1,0 .2,0 .1,0 .1,0 .1,0 .1,0 .2,.1 .1,0 .1,0 .1,0 .1,0 .2,0 .1,0 .1,.1 .1,0 .1,0 .2,0 .1,0 .1,0 .1,0 .1,0 .2,0 .1-.1 .1,0 .1-.1 .1-.1 .2-.3 .1-.4 .1-.6 .1-.8 .1-1 .2-1.1 .1-.8 .1-.3 .1,.4 .1,.8 .2,1.1 .1,1 .1,.9 .1,.6 .1,.5 .2,.3 .1,.1 .1,.2 .1,0 .1,.1 .2,0 .1,.1 .1,0 .1,.1 .1,0 .2,0 .1,.1 .1,0 .1,0 .1,0 .2,.1 .1,0 .1,0 .1,0 .1,0 .2,.1 .1,0 .1,0 .1,0 .1,0 .2,.1 .1,0 .1,0 .1,0 .1,0 .2,.1 .1,0 .1,0 .1,0 .1,0 .2,.1 .1,0 .1,0 .1,0 .1,0 .2,0 .1,.1 .1,0 .1,0 .1,0 .2,0 .1,.1 .1,0 .1,0 .1,0 .2,0 .1,0 .1,.1 .1,0 .1,0 .2,0 .1,0 .1,.1 .1,0 .1,0 .2,0 .1,0 .1,0 .1,.1 .1,0 .2,0 .1,0 .1,0 .1,0 .1,.1 .2,0 .1,0 .1,0 .1,0 .1,0 .2,.1 .1,0 .1,0 .1,0 .1,0 .2,0 .1,0 .1,.1 .1,0 .1,0 .2,0 .1,0 .1,0 .1,0 .1,.1 .2,0 .1,0 .1,0 .1,0 .1,0 .2,0 .1,0 .1,0 .1,.1 .1,0 .2,0 .1,0 .1,0 .1,0 .1,0 .2,0 .1,0 .1,0 .1,0 .1,0 .2,0 .1,0 .1,0 .1,0 .1,0 .2,0 .1,0 .1,0 .1,0 .1-.1 .2,0 .1,0 .1-.1 .1,0 .1-.1 .2-.1 .1-.1 .1-.1 .1-.2 .1-.2 .2-.2 .1-.4 .1-.5 .1-.8 .1-1.5 .2-2.3 .1-3.7 .1-5.4 .1-7.3 .1-8.8 .2-9.1 .1-7.3 .1-2.8 .1,2.9 .1,7.3 .2,9.1 .1,8.8 .1,7.4 .1,5.4 .1,3.7 .2,2.4 .1,1.5 .1,.8 .1,.6 .1,.4 .2,.3 .1,.2 .1,.2 .1,.1 .1,.2 .2,.1 .1,.1 .1,.1 .1,.1 .1,0 .2,.1 .1,.1 .1,0 .1,.1 .1,0 .2,.1 .1,0 .1,0 .1,.1 .1,0 .2,0 .1,.1 .1,0 .1,0 .1,.1 .2,0 .1,0 .1,0 .1,.1 .1,0 .2,0 .1,.1 .1,0 .1,0 .1,.1 .2,0 .1,0 .1,.1 .1,0 .1,0 .2,.1 .1,0 .1,0 .1,.1 .1,0 .2,0 .1,.1 .1,0 .1,0 .1,.1 .2,0 .1,0 .1,.1 .1,0 .1,0 .2,0 .1,.1 .1,0 .1,0 .1,0 .2,.1 .1,0 .1,0 .1,.1 .1,0 .2,0 .1,0 .1,0 .1,.1 .1,0 .2,0 .1,0 .1,0 .1,0 .1,0 .2,.1 .1,0 .1,0 .1,0 .1-.1 .2,0 .1,0 .1,0 .1-.1 .1,0 .2-.1 .1-.1 .1-.2 .1-.2 .1-.4 .2-.6 .1-1.1 .1-1.7 .1-2.7 .1-3.7 .2-4.8 .1-5.5 .1-5.3 .1-3.6 .1-.6 .2,2.8 .1,5 .1,5.6 .1,5.2 .1,4.2 .2,3 .1,2.1 .1,1.3 .1,.8 .1,.5 .2,.3 .1,.3 .1,.2 .1,.1 .1,.2 .2,.1 .1,.1 .1,.1 .1,.1 .1,0 .2,.1 .1,.1 .1,0 .1,.1 .1,0 .2,.1 .1,0 .1,.1 .1,0 .1,.1 .2,0 .1,0 .1,.1 .1,0 .1,0 .2,.1 .1,0 .1,0 .1,.1 .1,0 .2,0 .1,0 .1,.1 .1,0 .1,0 .2,0 .1,.1 .1,0 .1,0 .1,0 .2,.1 .1,0 .1,0 .1,0 .1,.1 .2,0 .1,0 .1,0 .1,.1 .1,0 .2,0 .1,0 .1,.1 .1,0 .1,0 .2,0 .1,.1 .1,0 .1,0 .1,0 .2,.1 .1,0 .1,0 .1,0 .1,0 .2,.1 .1,0 .1,0 .1,0 .1,.1 .2,0 .1,0 .1,0 .1,.1 .1,0 .2,0 .1,0 .1,0 .1,.1 .1,0 .2,0 .1,0 .1,.1 .1,0 .1,0 .2,0 .1,0 .1,0 .1,.1 .1,0 .2,0 .1,0 .1,0 .1,0 .1,0 .2,0 .1,0 .1,.1 .1,0 .1,0 .2,0 .1,0 .1,0 .1,0 .1,0 .2,0 .1,0 .1,.1 .1,0 .1,0 .2,0 .1,0 .1,0 .1,0 .1,0 .2,0 .1,.1 .1,0 .1,0 .1,0 .2,0 .1,0 .1,0 .1,0 .1,0 .2,0 .1,.1 .1,0 .1,0 .1,0 .2,0 .1,0 .1,0 .1,0 .1,0 .2,0 .1,0 .1,.1 .1,0 .1,0 .2,0 .1,0 .1,0 .1,0 .1,0 .2,0 .1,0 .1,0 .1,.1 .1,0 .2,0 .1,0 .1,0 .1,0 .1,0 .2,0 .1,0 .1,0 .1,0 .1,.1 .2,0 .1,0 .1,0 .1,0 .1,0 .2,0 .1,0 .1,0 .1,0 .1,0 .2,0 .1,0 .1,0 .1,0 .1,0 .2,.1 .1,0 .1,0 .1,0 .1,0 .2,0 .1,0 .1,0 .1,0 .1,0 .2,0 .1,0 .1,0 .1,0 .1,0 .2,0 .1,0 .1,0 .1-.1 .1,0 .2,0 .1,0 .1,0 .1,0 .1-.1 .2,0 .1,0 .1-.1 .1,0 .1,0 .2-.1 .1-.1 .1,0 .1-.1 .1-.1 .2-.2 .1-.1 .1-.2 .1-.2 .1-.3 .2-.3 .1-.5 .1-.8 .1-1.2 .1-2 .2-3.2 .1-4.8 .1-6.9 .1-8.9 .1-10.3 .2-10.5 .1-8.2 .1-3.2 .1,3.2 .1,8.2 .2,10.5 .1,10.3 .1,8.9 .1,6.8 .1,4.8 .2,3.2 .1,2 .1,1.2 .1,.7 .1,.4 .2,.3 .1,.2 .1,0 .1-.1 .1-.3 .2-.6 .1-.9 .1-1.5 .1-1.9 .1-2.2 .2-2.2 .1-1.8 .1-.7 .1,.8 .1,1.8 .2,2.4 .1,2.3 .1,2 .1,1.5 .1,1.1 .2,.7 .1,.5 .1,.3 .1,.1 .1,.2 .2,0 .1,.1 .1,0 .1,.1 .1,0 .2,0 .1,0 .1,0 .1,0 .1-.1 .2,0 .1-.1 .1-.1 .1-.1 .1-.1 .2-.3 .1-.4 .1-.6 .1-1 .1-1.6 .2-2.2 .1-3 .1-3.6 .1-3.9 .1-3.3 .2-1.9 .1,.4 .1,2.5 .1,3.6 .1,3.8 .2,3.5 .1,2.8 .1,2 .1,1.4 .1,.8 .2,.6 .1,.3 .1,.2 .1,.2 .1,.1 .2,.1 .1,.1 .1,0 .1,.1 .1,0 .2,.1 .1,0 .1,0 .1,0 .1,.1 .2,0 .1,0 .1,0 .1,0 .1,0 .2,0 .1,0 .1,.1 .1,0 .1,0 .2,0 .1,0 .1,0 .1,0 .1,0 .2,0 .1,0 .1,0 .1,0 .1,0 .2,0 .1,0 .1,0 .1,0 .1,0 .2,0 .1,0 .1,0 .1,0 .1,0 .2-.1 .1,0 .1,0 .1,0 .1,0 .2,0 .1,0 .1,0 .1,0 .1,0 .2,0 .1-.1 .1,0 .1,0 .1,0 .2,0 .1-.1 .1,0 .1-.1 .1-.1 .2-.1 .1-.1 .1-.1 .1-.1 .1-.1 .2-.1 .1-.1 .1-.2 .1-.1 .1-.2 .2-.2 .1-.2 .1-.4 .1-.4 .1-.6 .2-1 .1-1.6 .1-2.3 .1-3.5 .1-4.6 .2-5.7 .1-6.4 .1-5.9 .1-4 .1-.7 .2,2.9 .1,5.4 .1,6.2 .1,6 .1,4.9 .2,3.7 .1,2.6 .1,1.7 .1,1 .1,.7 .2,.3 .1,.3 .1,.1 .1,.2 .1,0 .2,.1 .1,0 .1,.1 .1,0 .1,0 .2,0 .1,0 .1-.1 .1,0 .1,0 .2,0 .1,0 .1-.1 .1,0 .1,0 .2,0 .1-.1 .1,0 .1,0 .1,0 .2,0 .1,0 .1,0 .1,0 .1,0 .2-.1 .1,0 .1,0 .1,0 .1,0 .2,0 .1-.1 .1,0 .1,0 .1,0 .2,0 .1-.1 .1,0 .1,0 .1,0 .2-.1 .1,0 .1,0 .1,0 .1-.1 .2,0 .1,0 .1,0 .1-.1 .1,0 .2,0 .1-.1 .1,0 .1,0 .1-.1 .2,0 .1,0 .1-.1 .1,0 .1-.1 .2,0 .1-.1 .1,0 .1-.1 .1-.1 .2-.1 .1-.2 .1-.2 .1-.2 .1-.5 .2-.7 .1-1 .1-1.3 .1-1.8 .1-1.9 .2-2 .1-1.5 .1-.6 .1,.5 .1,1.5 .2,1.8 .1,1.9 .1,1.6 .1,1.3 .1,.9 .2,.6 .1,.4 .1,.2 .1,.1 .1,0 .2,0 .1,0 .1-.1 .1,0 .1-.1 .2-.1 .1-.1 .1-.2 .1-.1 .1-.2 .2-.2 .1-.2 .1-.3 .1-.4 .1-.4 .2-.6 .1-.8 .1-1.3 .1-2 .1-3.2 .2-5 .1-7.3 .1-10 .1-12.6 .1-14.5 .2-14.3 .1-11.1 .1-4.2 .1,4.2 .1,11 .2,14.3 .1,14.4 .1,12.6 .1,9.9 .1,7.3 .2,4.9 .1,3.1 .1,2 .1,1.2 .1,.8 .2,.5 .1,.4 .1,.2 .1,.2 .1,.2 .2,.1 .1,0 .1,.1 .1,0 .1-.1 .2-.1 .1-.1 .1-.2 .1-.2 .1-.3 .2-.5 .1-.7 .1-1 .1-1.7 .1-2.3 .2-3.3 .1-4.2 .1-5 .1-5.3 .1-4.7 .2-2.9 .1-.4 .1,1.9 .1,2.8 .1,2.3 .2,.3 .1-2.9 .1-7.2 .1-12.4 .1-17.7 .2-22.3 .1-24.8 .1-23.1 .1-15.5 .1-2.3 .2,11.8 .1,21.6 .1,25.2 .1,24.1 .1,20.5 .2,15.8 .1,11.2 .1,7.5 .1,4.7 .1,2.9 .2,1.7 .1,1.1 .1,.6 .1,.2 .1-.2 .2-.9 .1-1.7 .1-2.8 .1-4.3 .1-5.8 .2-7.1 .1-7.9 .1-7.2 .1-4.9 .1-.6 .2,3.9 .1,7 .1,8.1 .1,7.8 .1,6.7 .2,5.2 .1,3.7 .1,2.5 .1,1.6 .1,1.1 .2,.7 .1,.5 .1,.3 .1,.3 .1,.2 .2,.2 .1,.2 .1,.1 .1,.2 .1,.1 .2,.1 .1,.1 .1,.1 .1,.1 .1,0 .2,.1 .1,.1 .1,0 .1,.1 .1,0 .2,.1 .1,0 .1,.1 .1,0 .1,.1 .2,0 .1,0 .1,.1 .1,0 .1,.1 .2,0 .1,0 .1,0 .1,.1 .1,0 .2,0 .1,.1 .1,0 .1,0 .1,0 .2,.1 .1,0 .1,0 .1,0 .1,0 .2,.1 .1,0 .1,0 .1,0 .1,.1 .2,0 .1,0 .1,0 .1,0 .1,0 .2,.1 .1,0 .1,0 .1,0 .1,0 .2,.1 .1,0 .1,0 .1,0 .1,0 .2,0 .1,0 .1,0 .1,0 .1,.1 .2,0 .1,0 .1,0 .1,0 .1,0 .2,0 .1,0 .1,0 .1,0 .1,.1 .2,0 .1,0 .1,0 .1,0 .1,0 .2,0 .1,0 .1,0 .1,0 .1,0 .2,.1 .1,0 .1,0 .1,0 .1,0 .2,0 .1,0 .1,0 .1,0 .1,0 .2,0 .1,0 .1,.1 .1,0 .1,0 .2,0 .1,0 .1,0 .1,0 .1,0 .2,0 .1,0 .1,0 .1,0 .1,0 .2,0 .1,.1 .1,0 .1,0 .1,0 .2,0 .1,0 .1,0 .1,0 .1,0 .2,0 .1,0 .1,0 .1,0 .1,0 .2,0 .1,0 .1,0 .1,0 .1,0 .2,.1 .1,0 .1,0 .1,0 .1,0 .2,0 .1-.1 .1,0 .1,0 .1,0 .2,0 .1,0 .1,0 .1-.1 .1,0 .2-.1 .1-.1 .1,0 .1-.1 .1-.2 .2-.1 .1-.2 .1-.1 .1-.2 .1-.2 .2-.2 .1-.2 .1-.3 .1-.1 .1-.2 .2-.1 .1-.1 .1,0 .1,0 .1,.1 .2,.1 .1,.2 .1,.2 .1,.2 .1,.3 .2,.2 .1,.2 .1,.2 .1,.2 .1,.2 .2,.1 .1,.1 .1,.2 .1,.1 .1,0 .2,.1 .1,.1 .1,.1 .1,0 .1,.1 .2,0 .1,.1 .1,0 .1,0 .1,.1 .2,0 .1,0 .1,0 .1,.1 .1,0 .2,0 .1,0 .1,0 .1,0 .1,.1 .2,0 .1,0 .1,0 .1,0 .1,0 .2,0 .1,0 .1,0 .1,0 .1-.1 .2,0 .1-.1 .1-.1 .1-.1 .1-.3 .2-.4 .1-.7 .1-.9 .1-1.4 .1-1.8 .2-2.2 .1-2.3 .1-2.2 .1-1.4 .1-.2 .2,1.1 .1,2 .1,2.4 .1,2.3 .1,2 .2,1.5 .1,1.2 .1,.8 .1,.5 .1,.4 .2,.2 .1,.2 .1,.1 .1,.1 .1,.1 .2,0 .1,.1 .1,.1 .1,0 .1,.1 .2,0 .1,.1 .1,0 .1,0 .1,.1 .2,0 .1,0 .1,.1 .1,0 .1,0 .2,.1 .1,0 .1,0 .1,.1 .1,0 .2,0 .1,0 .1,.1 .1,0 .1,0 .2,0 .1,.1 .1,0 .1,0 .1,0 .2,.1 .1,0 .1,0 .1,0 .1,.1 .2,0 .1,0 .1,0 .1,0 .1,.1 .2,0 .1,0 .1,0 .1,.1 .1,0 .2,0 .1,0 .1,.1 .1,0 .1,0 .2,0 .1,0 .1,.1 .1,0 .1,0 .2,0 .1,0 .1,.1 .1,0 .1,0 .2,0 .1,0 .1,.1 .1,0 .1,0 .2,0 .1,0 .1,0 .1,0 .1,0 .2,0 .1,0 .1-.1 .1,0 .1,0 .2,0 .1,0 .1,0 .1,0 .1,0 .2,0 .1-.1 .1,0 .1,0 .1,0 .2-.1 .1,0 .1,0 .1-.1 .1,0 .2-.1 .1-.1 .1-.1 .1-.2 .1-.2 .2-.2 .1-.2 .1-.3 .1-.3 .1-.4 .2-.4 .1-.5 .1-.4 .1-.5 .1-.6 .2-.5 .1-.4 .1-.5 .1-.3 .1-.3 .2-.1 .1,0 .1,.2 .1,.3 .1,.3 .2,.4 .1,.5 .1,.5 .1,.5 .1,.5 .2,.4 .1,.5 .1,.3 .1,.4 .1,.3 .2,.2 .1,.2 .1,.2 .1,.1 .1,.1 .2,0 .1,.1 .1-.1 .1,0 .1-.1 .2-.1 .1-.2 .1-.3 .1-.6 .1-.8 .2-1.3 .1-1.8 .1-2.4 .1-2.9 .1-3.2 .2-3.1 .1-2.3 .1-.9 .1,.9 .1,2.3 .2,3.1 .1,3.2 .1,2.9 .1,2.4 .1,1.8 .2,1.3 .1,.9 .1,.5 .1,.4 .1,.2 .2,.2 .1,.1 .1,0 .1,.1 .1,0 .2,.1 .1,0 .1,0 .1,0 .1,0 .2,0 .1-.1 .1,0 .1,0 .1-.1 .2-.1 .1,0 .1-.2 .1-.1 .1-.1 .2-.3 .1-.2 .1-.4 .1-.6 .1-.9 .2-1.4 .1-2.2 .1-3.1 .1-4.3 .1-5.6 .2-6.5 .1-6.8 .1-6.3 .1-4 .1-.7 .2,3.1 .1,5.7 .1,6.8 .1,6.7 .1,5.9 .2,4.7 .1,3.5 .1,2.5 .1,1.6 .1,1.1 .2,.7 .1,.4 .1,.4 .1,.2 .1,.2 .2,.1 .1,.2 .1,.1 .1,.1 .1,0 .2,.1 .1,.1 .1,0 .1,.1 .1,0 .2,0 .1,.1 .1,0 .1,0 .1,0 .2,.1 .1,0 .1,0 .1,0 .1,0 .2,0 .1,0 .1,0 .1,0 .1,.1 .2,0 .1,0 .1,0 .1,0 .1-.1 .2,0 .1,0 .1,0 .1,0 .1,0 .2,0 .1,0 .1-.1 .1,0 .1,0 .2,0 .1-.1 .1,0 .1-.1 .1,0 .2-.1 .1-.1 .1-.1 .1-.1 .1-.2 .2-.2 .1-.3 .1-.5 .1-.8 .1-1.1 .2-1.8 .1-2.3 .1-3.1 .1-3.8 .1-4.1 .2-3.9 .1-2.9 .1-1.2 .1,1.1 .1,2.9 .2,3.9 .1,4.1 .1,3.7 .1,3 .1,2.3 .2,1.7 .1,1 .1,.7 .1,.4 .1,.2 .2,0 .1-.1 .1-.4 .1-.5 .1-1 .2-1.4 .1-2.1 .1-2.7 .1-3.2 .1-3.6 .2-3.4 .1-2.6 .1-1 .1,1 .1,2.7 .2,3.4 .1,3.7 .1,3.3 .1,2.8 .1,2.1 .2,1.5 .1,1.1 .1,.6 .1,.5 .1,.3 .2,.2 .1,.1 .1,.2 .1,.1 .1,0 .2,.1 .1,.1 .1,0 .1,0 .1,.1 .2,0 .1,0 .1,.1 .1,0 .1,0 .2,0 .1,0 .1,.1 .1,0 .1,0 .2,0 .1,0 .1,0 .1,0 .1,0 .2,0 .1,0 .1,0 .1,0 .1,0 .2,0 .1,0 .1,0 .1,0 .1,0 .2,0 .1,0 .1,0 .1-.1 .1,0 .2,0 .1,0 .1,0 .1-.1 .1,0 .2,0 .1-.1 .1,0 .1-.1 .1-.1 .2-.1 .1-.2 .1-.3 .1-.5 .1-.6 .2-1 .1-1.3 .1-1.8 .1-2 .1-2.3 .2-2.2 .1-1.6 .1-.6 .1,.6 .1,1.6 .2,2.1 .1,2.2 .1,2 .1,1.7 .1,1.3 .2,.9 .1,.6 .1,.4 .1,.2 .1,.1 .2,0 .1,0 .1,0 .1-.2 .1-.1 .2-.3 .1-.5 .1-.6 .1-1.1 .1-1.6 .2-2.4 .1-3.2 .1-4.3 .1-5 .1-5.5 .2-5.3 .1-3.9 .1-1.5 .1,1.5 .1,4 .2,5.2 .1,5.5 .1,5.1 .1,4.3 .1,3.3 .2,2.4 .1,1.6 .1,1.1 .1,.7 .1,.5 .2,.3 .1,.2 .1,.2 .1,.2 .1,.1 .2,.1 .1,.1 .1,0 .1,.1 .1,.1 .2,0 .1,0 .1,.1 .1,0 .1,.1 .2,0 .1,0 .1,0 .1,.1 .1,0 .2,0 .1,0 .1,0 .1,0 .1,0 .2,.1 .1,0 .1,0 .1,0 .1,0 .2,0 .1,0 .1,0 .1,0 .1,0 .2,0 .1,0 .1,.1 .1,0 .1,0 .2,0 .1,0 .1,0 .1,0 .1,0 .2,0 .1,0 .1,0 .1,0 .1,0 .2,0 .1,0 .1,0 .1,0 .1,0 .2,0 .1,0 .1,0 .1,0 .1,0 .2,0 .1,0 .1,0 .1,0 .1,0 .2,0 .1,0 .1,0 .1,0 .1,0 .2,0 .1,0 .1-.1 .1,0 .1,0 .2,0 .1,0 .1,0 .1-.1 .1,0 .2-.1 .1,0 .1-.1 .1-.1 .1-.1 .2-.1 .1-.1 .1-.2 .1-.1 .1-.2 .2-.2 .1-.2 .1-.2 .1-.3 .1-.2 .2-.2 .1-.1 .1-.1 .1-.1 .1,0 .2,0 .1,.1 .1,.2 .1,.2 .1,.2 .2,.2 .1,.2 .1,.2 .1,.2 .1,.2 .2,.2 .1,.1 .1,.2 .1,.1 .1,.1 .2,.1 .1,.1 .1,0 .1,.1 .1,0 .2,0 .1,0 .1,.1 .1,0 .1,0 .2,0 .1,0 .1,0 .1,0 .1,0 .2,0 .1,0 .1,0 .1,0 .1,0 .2,0 .1,0 .1,0 .1,0 .1,0 .2,0 .1,0 .1-.1 .1,0 .1,0 .2,0 .1,0 .1-.1 .1,0 .1,0 .2-.1 .1,0 .1-.1 .1-.1 .1-.1 .2-.1 .1-.2 .1-.1 .1-.3 .1-.2 .2-.3 .1-.4 .1-.4 .1-.5 .1-.5 .2-.5 .1-.6 .1-.5 .1-.6 .1-.6 .2-.5 .1-.4 .1-.3 .1-.2 .1-.1 .2,.2 .1,.2 .1,.4 .1,.5 .1,.5 .2,.6 .1,.5 .1,.6 .1,.5 .1,.5 .2,.5 .1,.4 .1,.3 .1,.3 .1,.3 .2,.2 .1,.2 .1,.1 .1,.1 .1,0 .2,.1 .1,0 .1,0 .1-.1 .1-.1 .2-.1 .1-.3 .1-.4 .1-.6 .1-.8 .2-1.3 .1-1.7 .1-2.2 .1-2.6 .1-2.8 .2-2.6 .1-2 .1-.7 .1,.7 .1,1.9 .2,2.6 .1,2.7 .1,2.5 .1,2.1 .1,1.6 .2,1.1 .1,.7 .1,.4 .1,.1 .1,0 .2-.1 .1-.3 .1-.3 .1-.4 .1-.4 .2-.5 .1-.4 .1-.5 .1-.4 .1-.4 .2-.3 .1-.1 .1-.1 .1,.1 .1,.2 .2,.4 .1,.4 .1,.4 .1,.5 .1,.6 .2,.5 .1,.5 .1,.4 .1,.5 .1,.4 .2,.3 .1,.3 .1,.3 .1,.2 .1,.2 .2,.1 .1,.2 .1,.1 .1,.1 .1,0 .2,.1 .1,0 .1,.1 .1,0 .1,0 .2,.1 .1,0 .1,0 .1,0 .1,0 .2,0 .1,.1 .1,0 .1,0 .1,0 .2,0 .1,0 .1,0 .1,0 .1,0 .2,0 .1,0 .1,0 .1,0 .1,0 .2,0 .1,0 .1,0 .1,0 .1,0 .2,0 .1,0 .1,0 .1,0 .1,0 .2,0 .1,0 .1,0 .1,0 .1,0 .2,0 .1,0 .1-.1 .1,0 .1,0 .2,0 .1,0 .1,0 .1-.1 .1,0 .2,0 .1-.1 .1,0 .1,0 .1-.1 .2-.1 .1,0 .1-.1 .1-.1 .1-.2 .2-.2 .1-.3 .1-.4 .1-.7 .1-1 .2-1.4 .1-1.8 .1-2.3 .1-2.7 .1-3 .2-2.7 .1-2 .1-.8 .1,.7 .1,2 .2,2.6 .1,2.8 .1,2.6 .1,2.1 .1,1.7 .2,1.2 .1,.7 .1,.4 .1,.1 .1-.1 .2-.2 .1-.4 .1-.4 .1-.5 .1-.6 .2-.6 .1-.6 .1-.6 .1-.5 .1-.5 .2-.4 .1-.2 .1-.1 .1,.1 .1,.3 .2,.4 .1,.5 .1,.6 .1,.7 .1,.7 .2,.6 .1,.6 .1,.6 .1,.6 .1,.5 .2,.4 .1,.4 .1,.4 .1,.3 .1,.2 .2,.2 .1,.2 .1,.1 .1,.1 .1,.1 .2,.1 .1,0 .1,.1 .1,0 .1,0 .2,.1 .1,0 .1,0 .1,0 .1,.1 .2,0 .1,0 .1,0 .1,0 .1,0 .2,0 .1,0 .1,.1 .1,0 .1,0 .2,0 .1,0 .1,0 .1,0 .1,0 .2,0 .1,0 .1,0 .1,0 .1,0 .2,0 .1,0 .1,0 .1,0 .1,0 .2,0 .1,0 .1,0 .1,0 .1,0 .2,0 .1,0 .1,0 .1,0 .1,0 .2,0 .1-.1 .1,0 .1,0 .1,0 .2,0 .1,0 .1,0 .1,0 .1-.1 .2,0 .1,0 .1,0 .1-.1 .1,0 .2,0 .1-.1 .1,0 .1-.1 .1-.1 .2-.1 .1-.1 .1-.2 .1-.1 .1-.3 .2-.2 .1-.4 .1-.3 .1-.5 .1-.4 .2-.6 .1-.6 .1-.6 .1-.7 .1-.6 .2-.7 .1-.6 .1-.6 .1-.4 .1-.3 .2-.2 .1,0 .1,.2 .1,.3 .1,.4 .2,.5 .1,.6 .1,.6 .1,.6 .1,.6 .2,.5 .1,.4 .1,.4 .1,.2 .1,.1 .2-.1 .1-.4 .1-.8 .1-1.3 .1-1.7 .2-2.4 .1-2.8 .1-3.2 .1-3.1 .1-2.5 .2-1.3 .1,.3 .1,1.8 .1,2.9 .1,3.2 .2,3.2 .1,2.8 .1,2.3 .1,1.8 .1,1.3 .2,.9 .1,.6 .1,.4 .1,.3 .1,.1 .2,.1 .1,.1 .1,.1 .1,0 .1,0 .2,0 .1-.1 .1,0 .1-.1 .1-.2 .2-.1 .1-.2 .1-.3 .1-.3 .1-.4 .2-.4 .1-.5 .1-.5 .1-.6 .1-.6 .2-.7 .1-.7 .1-.6 .1-.6 .1-.5 .2-.4 .1-.3 .1-.1 .1,.1 .1,.2 .2,.4 .1,.5 .1,.6 .1,.6 .1,.6 .2,.6 .1,.6 .1,.5 .1,.5 .1,.4 .2,.3 .1,.3 .1,.1 .1,.1 .1,0 .2-.1 .1-.2 .1-.3 .1-.4 .1-.4 .2-.6 .1-.5 .1-.7 .1-.7 .1-.7 .2-.7 .1-.7 .1-.6 .1-.4 .1-.4 .2-.1 .1,0 .1,.2 .1,.4 .1,.5 .2,.6 .1,.6 .1,.7 .1,.6 .1,.7 .2,.5 .1,.5 .1,.5 .1,.3 .1,.2 .2,.1 .1,0 .1-.1 .1-.2 .1-.3 .2-.4 .1-.4 .1-.6 .1-.6 .1-.6 .2-.6 .1-.6 .1-.6 .1-.4 .1-.4 .2-.2 .1-.1 .1,.1 .1,.2 .1,.3 .2,.3 .1,.3 .1,.3 .1,.3 .1,.1 .2,.1 .1,0 .1-.1 .1-.2 .1-.2 .2-.3 .1-.3 .1-.3 .1-.2 .1-.2 .2,0 .1,.2 .1,.3 .1,.4 .1,.5 .2,.7 .1,.6 .1,.7 .1,.7 .1,.6 .2,.7 .1,.6 .1,.5 .1,.4 .1,.5 .2,.3 .1,.3 .1,.3 .1,.2 .1,.1 .2,.2 .1,.1 .1,.1 .1,0 .1,.1 .2,0 .1,0 .1,.1 .1,0 .1,0 .2-.1 .1,0 .1,0 .1-.1 .1,0 .2-.1 .1-.1 .1-.1 .1-.3 .1-.3 .2-.5 .1-.7 .1-1 .1-1.5 .1-2 .2-2.5 .1-2.9 .1-3.2 .1-3.1 .1-2.4 .2-1.3 .1,.3 .1,1.7 .1,2.8 .1,3.1 .2,3.2 .1,2.8 .1,2.3 .1,1.8 .1,1.4 .2,.9 .1,.7 .1,.4 .1,.3 .1,.2 .2,.1 .1,.2 .1,.1 .1,0 .1,.1 .2,0 .1,.1 .1,0 .1,.1 .1,0 .2,0 .1,.1 .1,0 .1,0 .1,0 .2,0 .1,0 .1,.1 .1,0 .1,0 .2,0 .1,0 .1,0 .1,0 .1,0 .2,0 .1,0 .1,0 .1,0 .1,0 .2,0 .1,.1 .1,0 .1,0 .1,0 .2,0 .1,0 .1,0 .1,0 .1,0 .2-.1 .1,0 .1,0 .1,0 .1,0 .2,0 .1,0 .1,0 .1,0 .1,0 .2,0 .1-.1 .1,0 .1,0 .1,0 .2-.1 .1-.1 .1,0 .1-.1 .1-.1 .2-.1 .1-.2 .1-.1 .1-.2 .1-.2 .2-.2 .1-.2 .1-.2 .1-.2 .1-.2 .2-.2 .1-.2 .1-.1 .1-.1 .1,0 .2,.1 .1,0 .1,.2 .1,.2 .1,.2 .2,.2 .1,.2 .1,.2 .1,.2 .1,.2 .2,.1 .1,.2 .1,.1 .1,.1 .1,.1 .2,.1 .1,.1 .1,0 .1,0 .1,.1 .2,0 .1,0 .1,0 .1,0 .1,0 .2-.1 .1,0 .1-.1 .1,0 .1-.1 .2-.1 .1-.1 .1-.2 .1-.2 .1-.2 .2-.3 .1-.3 .1-.4 .1-.4 .1-.4 .2-.5 .1-.5 .1-.5 .1-.5 .1-.5 .2-.4 .1-.4 .1-.3 .1-.1 .1,0 .2,.1 .1,.2 .1,.3 .1,.4 .1,.5 .2,.5 .1,.5 .1,.5 .1,.5 .1,.4 .2,.4 .1,.4 .1,.3 .1,.2 .1,.3 .2,.1 .1,.2 .1,.1 .1,.1 .1,0 .2,.1 .1,0 .1,0 .1,0 .1-.1 .2-.1 .1-.1 .1-.1 .1-.2 .1-.1 .2-.3 .1-.2 .1-.3 .1-.4 .1-.4 .2-.4 .1-.4 .1-.4 .1-.5 .1-.4 .2-.4 .1-.3 .1-.3 .1-.1 .1-.1 .2,.1 .1,.2 .1,.2 .1,.3 .1,.4 .2,.3 .1,.4 .1,.3 .1,.3 .1,.3 .2,.1 .1,.1 .1,.1 .1-.1 .1-.1 .2-.2 .1-.3 .1-.4 .1-.4 .1-.5 .2-.5 .1-.6 .1-.5 .1-.5 .1-.4 .2-.4 .1-.2 .1,0 .1,0 .1,.3 .2,.3 .1,.5 .1,.5 .1,.6 .1,.5 .2,.6 .1,.5 .1,.6 .1,.4 .1,.5 .2,.3 .1,.3 .1,.3 .1,.2 .1,.2 .2,.1 .1,.1 .1,.1 .1,0 .1-.1 .2-.1 .1-.1 .1-.3 .1-.5 .1-.7 .2-.9 .1-1.2 .1-1.5 .1-1.7 .1-1.8 .2-1.6 .1-1.1 .1-.4 .1,.4 .1,1.2 .2,1.6 .1,1.7 .1,1.7 .1,1.5 .1,1.3 .2,.9 .1,.7 .1,.5 .1,.4 .1,.2 .2,.2 .1,.1 .1,.1 .1,0 .1,.1 .2,0 .1,0 .1,0 .1,.1 .1,0 .2,0 .1,0 .1,0 .1,0 .1,0 .2,0 .1-.1 .1,0 .1,0 .1,0 .2-.1 .1,0 .1-.1 .1,0 .1-.1 .2-.1 .1-.1 .1-.1 .1,0 .1-.1 .2-.1 .1-.1 .1-.2 .1-.1 .1-.1 .2,0 .1-.1 .1-.1 .1-.1 .1,0 .2,0 .1,0 .1,0 .1,.1 .1,0 .2,.1 .1,.1 .1,.1 .1,.1 .1,.1 .2,.1 .1,.1 .1,.1 .1,.1 .1,.1 .2,.1 .1,.1 .1,0 .1,.1 .1,0 .2,.1 .1,0 .1,.1 .1,0 .1,0 .2,0 .1,0 .1,0 .1,0 .1,0 .2,0 .1,0 .1-.1 .1,0 .1-.1 .2,0 .1-.1 .1,0 .1-.1 .1-.1 .2-.1 .1,0 .1-.1 .1-.1 .1-.1 .2-.1 .1,0 .1-.1 .1,0 .1,0 .2-.1 .1,0 .1,.1 .1,0 .1,0 .2,.1 .1,0 .1,.1 .1,.1 .1,0 .2,.1 .1,.1 .1,0 .1,.1 .1,.1 .2,0 .1,0 .1,.1 .1,0 .1,0 .2,0 .1,0 .1-.1 .1,0 .1-.1 .2,0 .1-.1 .1-.1 .1-.1 .1-.1 .2-.1 .1-.1 .1-.1 .1-.2 .1-.1 .2-.1 .1-.2 .1-.1 .1-.1 .1,0 .2-.1 .1,0 .1-.1 .1,.1 .1,0 .2,0 .1,.1 .1,.1 .1,.1 .1,.2 .2,.1 .1,.1 .1,.1 .1,.1 .1,.2 .2,.1 .1,.1 .1,.1 .1,0 .1,.1 .2,.1 .1,0 .1,0 .1,0 .1,.1 .2-.1 .1,0 .1,0 .1-.1 .1,0 .2-.1 .1-.1 .1,0 .1-.1 .1-.1 .2-.1 .1-.1 .1-.1 .1-.1 .1-.1 .2-.1 .1,0 .1-.1 .1,0 .1,0 .2,0 .1,.1 .1,0 .1,.1 .1,.1 .2,.1 .1,.1 .1,.1 .1,.1 .1,.1 .2,.1 .1,0 .1,.1 .1,.1 .1,.1 .2,0 .1,.1 .1,0 .1,.1 .1,0 .2,0 .1,0 .1,0 .1,0 .1,0 .2-.1 .1,0 .1-.1 .1,0 .1-.1 .2-.1 .1,0 .1-.1 .1-.1 .1-.1 .2,0 .1-.1 .1,0 .1-.1 .1,0 .2,0 .1,0 .1,0 .1,0 .1,.1 .2,0 .1,.1 .1,.1 .1,.1 .1,0 .2,.1 .1,.1 .1,.1 .1,0 .1,.1 .2,.1 .1,0 .1,.1 .1,0 .1,.1 .2,0 .1,0 .1,0 .1,0 .1,0 .2,0 .1,0 .1,0 .1,0 .1,0 .2-.1 .1,0 .1-.1 .1,0 .1-.1 .2-.1 .1-.1 .1-.1 .1,0 .1-.2 .2-.1 .1-.1 .1-.1 .1-.1 .1-.1 .2-.1 .1-.1 .1,0 .1-.1 .1,0 .2-.1 .1,0 .1,.1 .1,0 .1,.1 .2,0 .1,.1 .1,.1 .1,.1 .1,.1 .2,.1 .1,0 .1,.1 .1,.1 .1,.1 .2,0 .1,.1 .1,0 .1,0 .1,0 .2,0 .1,0 .1,0 .1-.1 .1-.1 .2-.1 .1-.1 .1-.1 .1-.1 .1-.2 .2-.1 .1-.2 .1-.2 .1-.2 .1-.2 .2-.1 .1-.2 .1-.2 .1-.1 .1-.1 .2-.1 .1-.1 .1,0 .1,0 .1,.1 .2,0 .1,.1 .1,.2 .1,.1 .1,.2 .2,.1 .1,.2 .1,.1 .1,.2 .1,.1 .2,.2 .1,.1 .1,.1 .1,0 .1,.1 .2,0 .1,.1 .1,0 .1-.1 .1,0 .2,0 .1-.1 .1,0 .1-.1 .1-.1 .2,0 .1-.1 .1,0 .1-.1 .1,0 .2,0 .1,0 .1,.1 .1,0 .1,.1 .2,0 .1,.1 .1,.1 .1,.1 .1,.1 .2,.1 .1,.1 .1,.1 .1,.1 .1,.1 .2,.1 .1,0 .1,.1 .1,0 .1,0 .2,0 .1,0 .1,0 .1,0 .1,0 .2-.1 .1-.1 .1,0 .1-.1 .1-.1 .2-.1 .1-.1 .1-.2 .1-.1 .1-.1 .2-.1 .1-.1 .1-.2 .1,0 .1-.1 .2-.1 .1,0 .1,0 .1,0 .1,0 .2,.1 .1,.1 .1,.1 .1,.1 .1,.1 .2,.2 .1,.1 .1,.1 .1,.2 .1,.1 .2,.1 .1,.1 .1,.2 .1,.1 .1,.1 .2,0 .1,.1 .1,.1 .1,0 .1,.1 .2,.1"/>
<path stroke="none" marker-start="url(#mR)" marker-mid="url(#mR)" marker-end="url(#mR)" d="M56.5,461l.1-1 .2-1.1M57.1,458.2l.1,.8 .2,1.1 .1,1M73.9,462.7l.1-1.5 .2-2.3 .1-3.7 .1-5.4 .1-7.3 .1-8.8 .2-9.1 .1-7.3M75.1,417.4l.1,7.3 .2,9.1 .1,8.8 .1,7.4 .1,5.4 .1,3.7 .2,2.4 .1,1.5 .1,.8M87.4,466.5l.1-1.1 .1-1.7 .1-2.7 .1-3.7 .2-4.8 .1-5.5 .1-5.3 .1-3.6 .1-.6 .2,2.8 .1,5 .1,5.6 .1,5.2 .1,4.2 .2,3 .1,2.1 .1,1.3M115.8,469.3l.1-1.2 .1-2 .2-3.2 .1-4.8 .1-6.9 .1-8.9 .1-10.3 .2-10.5 .1-8.2M117.1,413.3l.1,8.2 .2,10.5 .1,10.3 .1,8.9 .1,6.8 .1,4.8 .2,3.2 .1,2 .1,1.2 .1,.7M118.7,470.8M119,470.4l.2-.6 .1-.9 .1-1.5 .1-1.9 .1-2.2 .2-2.2 .1-1.8M120.1,459.4l.1,1.8 .2,2.4 .1,2.3 .1,2 .1,1.5 .1,1.1M123.6,470.7l.1-1 .1-1.6 .2-2.2 .1-3 .1-3.6 .1-3.9 .1-3.3 .2-1.9 .1,.4 .1,2.5 .1,3.6 .1,3.8 .2,3.5 .1,2.8 .1,2 .1,1.4M135.2,469.5l.2-1 .1-1.6 .1-2.3 .1-3.5 .1-4.6 .2-5.7 .1-6.4 .1-5.9 .1-4 .1-.7 .2,2.9 .1,5.4 .1,6.2 .1,6 .1,4.9 .2,3.7 .1,2.6 .1,1.7 .1,1M146.8,466.5l.1-1 .1-1.3 .1-1.8 .1-1.9 .2-2 .1-1.5M147.7,456.9l.1,1.5 .2,1.8 .1,1.9 .1,1.6 .1,1.3 .1,.9M150.7,465.2M151.1,463.4l.1-1.3 .1-2 .1-3.2 .2-5 .1-7.3 .1-10 .1-12.6 .1-14.5 .2-14.3 .1-11.1M152.5,382.1l.1,11 .2,14.3 .1,14.4 .1,12.6 .1,9.9 .1,7.3 .2,4.9 .1,3.1 .1,2 .1,1.2M154,464.1M154.3,464.9M154.7,465.2M155,465.2M155.4,464.8M155.8,463.8l.1-.7 .1-1 .1-1.7 .1-2.3 .2-3.3 .1-4.2 .1-5 .1-5.3 .1-4.7 .2-2.9 .1-.4 .1,1.9 .1,2.8 .1,2.3 .2,.3 .1-2.9 .1-7.2 .1-12.4 .1-17.7 .2-22.3 .1-24.8 .1-23.1 .1-15.5 .1-2.3 .2,11.8 .1,21.6 .1,25.2 .1,24.1 .1,20.5 .2,15.8 .1,11.2 .1,7.5 .1,4.7 .1,2.9 .2,1.7 .1,1.1M160.4,460.1l.2-.9 .1-1.7 .1-2.8 .1-4.3 .1-5.8 .2-7.1 .1-7.9 .1-7.2 .1-4.9 .1-.6 .2,3.9 .1,7 .1,8.1 .1,7.8 .1,6.7 .2,5.2 .1,3.7 .1,2.5 .1,1.6 .1,1.1 .2,.7M182.8,467.2M183.1,467.1M183.5,467.5M189.6,467.8l.1-1.4 .1-1.8 .2-2.2 .1-2.3 .1-2.2 .1-1.4M190.6,457.4l.1,2 .1,2.4 .1,2.3 .1,2 .2,1.5 .1,1.2M204.4,470.1M204.7,468.7M205.1,467.2M205.4,466.1M205.8,466.2M206.2,467.2M206.5,468.7M206.9,470.1M209,469.8l.2-1.3 .1-1.8 .1-2.4 .1-2.9 .1-3.2 .2-3.1 .1-2.3M210.1,452.8l.1,2.3 .2,3.1 .1,3.2 .1,2.9 .1,2.4 .1,1.8 .2,1.3M214.3,470.1l.1-.9 .2-1.4 .1-2.2 .1-3.1 .1-4.3 .1-5.6 .2-6.5 .1-6.8 .1-6.3 .1-4 .1-.7 .2,3.1 .1,5.7 .1,6.8 .1,6.7 .1,5.9 .2,4.7 .1,3.5 .1,2.5 .1,1.6 .1,1.1 .2,.7M223.9,470.1l.1-1.1 .2-1.8 .1-2.3 .1-3.1 .1-3.8 .1-4.1 .2-3.9 .1-2.9M225.1,447l.1,2.9 .2,3.9 .1,4.1 .1,3.7 .1,3 .1,2.3 .2,1.7 .1,1M226.3,470.7M226.7,470.8M226.9,469.9l.1-1 .2-1.4 .1-2.1 .1-2.7 .1-3.2 .1-3.6 .2-3.4 .1-2.6M228.1,449.9l.1,2.7 .2,3.4 .1,3.7 .1,3.3 .1,2.8 .1,2.1 .2,1.5 .1,1.1M236,470.8l.2-1 .1-1.3 .1-1.8 .1-2 .1-2.3 .2-2.2 .1-1.6M237.1,458.6l.1,1.6 .2,2.1 .1,2.2 .1,2 .1,1.7 .1,1.3 .2,.9M239.3,470.6l.1-.6 .1-1.1 .1-1.6 .2-2.4 .1-3.2 .1-4.3 .1-5 .1-5.5 .2-5.3 .1-3.9M240.7,437.7l.1,4 .2,5.2 .1,5.5 .1,5.1 .1,4.3 .1,3.3 .2,2.4 .1,1.6 .1,1.1M253.7,470.6M254,470.4M254.4,470.7M261.6,470.6M262,469.1M262.3,467.4M262.7,465.9M263,465.3M263.4,466.1M263.8,467.7M264.1,469.3M264.5,470.7M266.5,470.7l.1-.8 .2-1.3 .1-1.7 .1-2.2 .1-2.6 .1-2.8 .2-2.6 .1-2M267.7,454.7l.1,1.9 .2,2.6 .1,2.7 .1,2.5 .1,2.1 .1,1.6 .2,1.1M268.8,470.3M269.2,470.3M269.5,469.3M269.9,468M270.2,466.7M270.6,466.2M271,466.9M271.3,468.2M271.7,469.8M272,471.1M280.9,470.8l.1-1 .2-1.4 .1-1.8 .1-2.3 .1-2.7 .1-3 .2-2.7 .1-2M282.1,453.8l.1,2 .2,2.6 .1,2.8 .1,2.6 .1,2.1 .1,1.7 .2,1.2M283.2,469.9M283.6,469.7M283.9,468.4M284.3,466.6M284.6,465M285,464.3M285.4,465.1M285.7,466.9M286.1,468.8M286.4,470.5M296.5,470.6M296.9,469M297.2,467.1M297.6,465.2M298,464.3M298.3,464.8M298.7,466.3M299,468.1M299.4,469.4M299.8,469.6M300,468.4l.1-1.3 .1-1.7 .2-2.4 .1-2.8 .1-3.2 .1-3.1 .1-2.5M301.1,450.4l.1,1.8 .1,2.9 .1,3.2 .2,3.2 .1,2.8 .1,2.3 .1,1.8 .1,1.3 .2,.9 .1,.6M304.4,470.6M304.8,469.2M305.2,467.3M305.5,465.4M305.9,464.2M306.2,464.4M306.6,465.9M307,467.7M307.3,469.3M307.7,470.3M308,470.5M308.4,469.9M308.8,468.5M309.1,466.6M309.5,464.5M309.8,463.1M310.2,463.2M310.6,464.7M310.9,466.6M311.3,468.3M311.6,469.3M312,469.3M312.4,468.4M312.7,466.8M313.1,465M313.4,463.6M313.8,463.4M314.2,464.2M314.5,465.1M314.9,465.3M315.2,464.8M315.6,463.9M316,463.5M316.3,464.4M316.7,466.2M317,468.2M317.4,470M317.8,471.2M320.9,470.4l.1-1 .1-1.5 .1-2 .2-2.5 .1-2.9 .1-3.2 .1-3.1 .1-2.4M322.1,450.8l.1,1.7 .1,2.8 .1,3.1 .2,3.2 .1,2.8 .1,2.3 .1,1.8 .1,1.4 .2,.9M332.2,470.8M332.5,470.4M332.9,470.5M333.2,471.1M337.2,470.9M337.6,469.6M337.9,468.1M338.3,466.8M338.6,466.4M339,467M339.4,468.4M339.7,469.9M340.1,471.1M342.6,471M343,469.8M343.3,468.5M343.7,467.4M344,466.9M344.4,467.4M344.8,468.4M345.1,469.4M345.5,469.9M345.8,469.8M346.2,468.9M346.6,467.5M346.9,465.9M347.3,464.9M347.6,465.2M348,466.5M348.4,468.2M348.7,469.7M350.6,470l.2-.9 .1-1.2 .1-1.5 .1-1.7 .1-1.8 .2-1.6 .1-1.1 .1-.4 .1,.4 .1,1.2 .2,1.6 .1,1.7 .1,1.7 .1,1.5 .1,1.3 .2,.9M368.5,470.4M368.9,470.3M369.2,470.3M389,470M389.4,469.5M389.8,469.2M390.1,469.1M390.5,469.3M390.8,469.8M391.2,470.2M398.8,470.2M399.1,470.2"/>
<path stroke="none" marker-start="url(#mR2)" marker-mid="url(#mR2)" marker-end="url(#mR2)" d="M49.2,462.6l.1,0 .1,0 .2,.1 .1,0 .1,0 .1,0 .1,0 .2,.1 .1,0 .1,0 .1,0 .1,0 .2,0 .1,.1 .1,0 .1,0 .1,0 .2,0 .1,0 .1,.1 .1,0 .1,0 .2,0 .1,0 .1,.1 .1,0 .1,0 .2,0 .1,0 .1,0 .1,.1 .1,0 .2,0 .1,0 .1,0 .1,0 .1,0 .2,.1 .1,0 .1,0 .1,0 .1,0 .2,0 .1,0 .1,.1 .1,0 .1,0 .2,0 .1,0 .1,0 .1,0 .1,0 .2,0 .1-.1 .1,0 .1-.1 .1-.1 .2-.3 .1-.4 .1-.6M57.6,462l.1,.6 .1,.5 .2,.3 .1,.1 .1,.2 .1,0 .1,.1 .2,0 .1,.1 .1,0 .1,.1 .1,0 .2,0 .1,.1 .1,0 .1,0 .1,0 .2,.1 .1,0 .1,0 .1,0 .1,0 .2,.1 .1,0 .1,0 .1,0 .1,0 .2,.1 .1,0 .1,0 .1,0 .1,0 .2,.1 .1,0 .1,0 .1,0 .1,0 .2,.1 .1,0 .1,0 .1,0 .1,0 .2,0 .1,.1 .1,0 .1,0 .1,0 .2,0 .1,.1 .1,0 .1,0 .1,0 .2,0 .1,0 .1,.1 .1,0 .1,0 .2,0 .1,0 .1,.1 .1,0 .1,0 .2,0 .1,0 .1,0 .1,.1 .1,0 .2,0 .1,0 .1,0 .1,0 .1,.1 .2,0 .1,0 .1,0 .1,0 .1,0 .2,.1 .1,0 .1,0 .1,0 .1,0 .2,0 .1,0 .1,.1 .1,0 .1,0 .2,0 .1,0 .1,0 .1,0 .1,.1 .2,0 .1,0 .1,0 .1,0 .1,0 .2,0 .1,0 .1,0 .1,.1 .1,0 .2,0 .1,0 .1,0 .1,0 .1,0 .2,0 .1,0 .1,0 .1,0 .1,0 .2,0 .1,0 .1,0 .1,0 .1,0 .2,0 .1,0 .1,0 .1,0 .1-.1 .2,0 .1,0 .1-.1 .1,0 .1-.1 .2-.1 .1-.1 .1-.1 .1-.2 .1-.2 .2-.2 .1-.4M76.3,464.4l.1,.4 .2,.3 .1,.2 .1,.2 .1,.1 .1,.2 .2,.1 .1,.1 .1,.1 .1,.1 .1,0 .2,.1 .1,.1 .1,0 .1,.1 .1,0 .2,.1 .1,0 .1,0 .1,.1 .1,0 .2,0 .1,.1 .1,0 .1,0 .1,.1 .2,0 .1,0 .1,0 .1,.1 .1,0 .2,0 .1,.1 .1,0 .1,0 .1,.1 .2,0 .1,0 .1,.1 .1,0 .1,0 .2,.1 .1,0 .1,0 .1,.1 .1,0 .2,0 .1,.1 .1,0 .1,0 .1,.1 .2,0 .1,0 .1,.1 .1,0 .1,0 .2,0 .1,.1 .1,0 .1,0 .1,0 .2,.1 .1,0 .1,0 .1,.1 .1,0 .2,0 .1,0 .1,0 .1,.1 .1,0 .2,0 .1,0 .1,0 .1,0 .1,0 .2,.1 .1,0 .1,0 .1,0 .1-.1 .2,0 .1,0 .1,0 .1-.1 .1,0 .2-.1 .1-.1 .1-.2 .1-.2 .1-.4M89.5,467.5l.1,.5 .2,.3 .1,.3 .1,.2 .1,.1 .1,.2 .2,.1 .1,.1 .1,.1 .1,.1 .1,0 .2,.1 .1,.1 .1,0 .1,.1 .1,0 .2,.1 .1,0 .1,.1 .1,0 .1,.1 .2,0 .1,0 .1,.1 .1,0 .1,0 .2,.1 .1,0 .1,0 .1,.1 .1,0 .2,0 .1,0 .1,.1 .1,0 .1,0 .2,0 .1,.1 .1,0 .1,0 .1,0 .2,.1 .1,0 .1,0 .1,0 .1,.1 .2,0 .1,0 .1,0 .1,.1 .1,0 .2,0 .1,0 .1,.1 .1,0 .1,0 .2,0 .1,.1 .1,0 .1,0 .1,0 .2,.1 .1,0 .1,0 .1,0 .1,0 .2,.1 .1,0 .1,0 .1,0 .1,.1 .2,0 .1,0 .1,0 .1,.1 .1,0 .2,0 .1,0 .1,0 .1,.1 .1,0 .2,0 .1,0 .1,.1 .1,0 .1,0 .2,0 .1,0 .1,0 .1,.1 .1,0 .2,0 .1,0 .1,0 .1,0 .1,0 .2,0 .1,0 .1,.1 .1,0 .1,0 .2,0 .1,0 .1,0 .1,0 .1,0 .2,0 .1,0 .1,.1 .1,0 .1,0 .2,0 .1,0 .1,0 .1,0 .1,0 .2,0 .1,.1 .1,0 .1,0 .1,0 .2,0 .1,0 .1,0 .1,0 .1,0 .2,0 .1,.1 .1,0 .1,0 .1,0 .2,0 .1,0 .1,0 .1,0 .1,0 .2,0 .1,0 .1,.1 .1,0 .1,0 .2,0 .1,0 .1,0 .1,0 .1,0 .2,0 .1,0 .1,0 .1,.1 .1,0 .2,0 .1,0 .1,0 .1,0 .1,0 .2,0 .1,0 .1,0 .1,0 .1,.1 .2,0 .1,0 .1,0 .1,0 .1,0 .2,0 .1,0 .1,0 .1,0 .1,0 .2,0 .1,0 .1,0 .1,0 .1,0 .2,.1 .1,0 .1,0 .1,0 .1,0 .2,0 .1,0 .1,0 .1,0 .1,0 .2,0 .1,0 .1,0 .1,0 .1,0 .2,0 .1,0 .1,0 .1-.1 .1,0 .2,0 .1,0 .1,0 .1,0 .1-.1 .2,0 .1,0 .1-.1 .1,0 .1,0 .2-.1 .1-.1 .1,0 .1-.1 .1-.1 .2-.2 .1-.1 .1-.2 .1-.2 .1-.3M121,471.2l.1,.5 .1,.3 .1,.1 .1,.2 .2,0 .1,.1 .1,0 .1,.1 .1,0 .2,0 .1,0 .1,0 .1,0 .1-.1 .2,0 .1-.1 .1-.1 .1-.1 .1-.1 .2-.3 .1-.4M125.6,471l.2,.6 .1,.3 .1,.2 .1,.2 .1,.1 .2,.1 .1,.1 .1,0 .1,.1 .1,0 .2,.1 .1,0 .1,0 .1,0 .1,.1 .2,0 .1,0 .1,0 .1,0 .1,0 .2,0 .1,0 .1,.1 .1,0 .1,0 .2,0 .1,0 .1,0 .1,0 .1,0 .2,0 .1,0 .1,0 .1,0 .1,0 .2,0 .1,0 .1,0 .1,0 .1,0 .2,0 .1,0 .1,0 .1,0 .1,0 .2-.1 .1,0 .1,0 .1,0 .1,0 .2,0 .1,0 .1,0 .1,0 .1,0 .2,0 .1-.1 .1,0 .1,0 .1,0 .2,0 .1-.1 .1,0 .1-.1 .1-.1 .2-.1 .1-.1 .1-.1 .1-.1 .1-.1 .2-.1 .1-.1 .1-.2 .1-.1 .1-.2 .2-.2 .1-.2 .1-.4 .1-.4M137.6,468.9l.2,.3 .1,.3 .1,.1 .1,.2 .1,0 .2,.1 .1,0 .1,.1 .1,0 .1,0 .2,0 .1,0 .1-.1 .1,0 .1,0 .2,0 .1,0 .1-.1 .1,0 .1,0 .2,0 .1-.1 .1,0 .1,0 .1,0 .2,0 .1,0 .1,0 .1,0 .1,0 .2-.1 .1,0 .1,0 .1,0 .1,0 .2,0 .1-.1 .1,0 .1,0 .1,0 .2,0 .1-.1 .1,0 .1,0 .1,0 .2-.1 .1,0 .1,0 .1,0 .1-.1 .2,0 .1,0 .1,0 .1-.1 .1,0 .2,0 .1-.1 .1,0 .1,0 .1-.1 .2,0 .1,0 .1-.1 .1,0 .1-.1 .2,0 .1-.1 .1,0 .1-.1 .1-.1 .2-.1 .1-.2 .1-.2 .1-.2 .1-.5M148.6,466.5l.1,.4 .1,.2 .1,.1 .1,0 .2,0 .1,0 .1-.1 .1,0 .1-.1 .2-.1 .1-.1 .1-.2 .1-.1 .1-.2 .2-.2M163.3,466.3l.1,.2 .2,.2 .1,.2 .1,.1 .1,.2 .1,.1 .2,.1 .1,.1 .1,.1 .1,.1 .1,0 .2,.1 .1,.1 .1,0 .1,.1 .1,0 .2,.1 .1,0 .1,.1 .1,0 .1,.1 .2,0 .1,0 .1,.1 .1,0 .1,.1 .2,0 .1,0 .1,0 .1,.1 .1,0 .2,0 .1,.1 .1,0 .1,0 .1,0 .2,.1 .1,0 .1,0 .1,0 .1,0 .2,.1 .1,0 .1,0 .1,0 .1,.1 .2,0 .1,0 .1,0 .1,0 .1,0 .2,.1 .1,0 .1,0 .1,0 .1,0 .2,.1 .1,0 .1,0 .1,0 .1,0 .2,0 .1,0 .1,0 .1,0 .1,.1 .2,0 .1,0 .1,0 .1,0 .1,0 .2,0 .1,0 .1,0 .1,0 .1,.1 .2,0 .1,0 .1,0 .1,0 .1,0 .2,0 .1,0 .1,0 .1,0 .1,0 .2,.1 .1,0 .1,0 .1,0 .1,0 .2,0 .1,0 .1,0 .1,0 .1,0 .2,0 .1,0 .1,.1 .1,0 .1,0 .2,0 .1,0 .1,0 .1,0 .1,0 .2,0 .1,0 .1,0 .1,0 .1,0 .2,0 .1,.1 .1,0 .1,0 .1,0 .2,0 .1,0 .1,0 .1,0 .1,0 .2,0 .1,0 .1,0 .1,0 .1,0 .2,0 .1,0 .1,0 .1,0 .1,0 .2,.1 .1,0 .1,0 .1,0 .1,0 .2,0 .1-.1 .1,0 .1,0 .1,0 .2,0 .1,0 .1,0 .1-.1 .1,0 .2-.1 .1-.1 .1,0 .1-.1 .1-.2 .2-.1 .1-.2 .1-.1 .1-.2 .1-.2 .2-.2 .1-.2 .1-.3M183.7,467.9l.1,.3 .2,.2 .1,.2 .1,.2 .1,.2 .1,.2 .2,.1 .1,.1 .1,.2 .1,.1 .1,0 .2,.1 .1,.1 .1,.1 .1,0 .1,.1 .2,0 .1,.1 .1,0 .1,0 .1,.1 .2,0 .1,0 .1,0 .1,.1 .1,0 .2,0 .1,0 .1,0 .1,0 .1,.1 .2,0 .1,0 .1,0 .1,0 .1,0 .2,0 .1,0 .1,0 .1,0 .1-.1 .2,0 .1-.1 .1-.1 .1-.1 .1-.3 .2-.4 .1-.7M191.4,469.6l.1,.5 .1,.4 .2,.2 .1,.2 .1,.1 .1,.1 .1,.1 .2,0 .1,.1 .1,.1 .1,0 .1,.1 .2,0 .1,.1 .1,0 .1,0 .1,.1 .2,0 .1,0 .1,.1 .1,0 .1,0 .2,.1 .1,0 .1,0 .1,.1 .1,0 .2,0 .1,0 .1,.1 .1,0 .1,0 .2,0 .1,.1 .1,0 .1,0 .1,0 .2,.1 .1,0 .1,0 .1,0 .1,.1 .2,0 .1,0 .1,0 .1,0 .1,.1 .2,0 .1,0 .1,0 .1,.1 .1,0 .2,0 .1,0 .1,.1 .1,0 .1,0 .2,0 .1,0 .1,.1 .1,0 .1,0 .2,0 .1,0 .1,.1 .1,0 .1,0 .2,0 .1,0 .1,.1 .1,0 .1,0 .2,0 .1,0 .1,0 .1,0 .1,0 .2,0 .1,0 .1-.1 .1,0 .1,0 .2,0 .1,0 .1,0 .1,0 .1,0 .2,0 .1-.1 .1,0 .1,0 .1,0 .2-.1 .1,0 .1,0 .1-.1 .1,0 .2-.1 .1-.1 .1-.1 .1-.2 .1-.2 .2-.2 .1-.2 .1-.3 .1-.3M207.1,470.8l.1,.3 .2,.2 .1,.2 .1,.2 .1,.1 .1,.1 .2,0 .1,.1 .1-.1 .1,0 .1-.1 .2-.1 .1-.2 .1-.3M211.2,471.2l.1,.4 .1,.2 .2,.2 .1,.1 .1,0 .1,.1 .1,0 .2,.1 .1,0 .1,0 .1,0 .1,0 .2,0 .1-.1 .1,0 .1,0 .1-.1 .2-.1 .1,0 .1-.2 .1-.1 .1-.1 .2-.3 .1-.2M217.1,471l.1,.4 .1,.2 .1,.2 .2,.1 .1,.2 .1,.1 .1,.1 .1,0 .2,.1 .1,.1 .1,0 .1,.1 .1,0 .2,0 .1,.1 .1,0 .1,0 .1,0 .2,.1 .1,0 .1,0 .1,0 .1,0 .2,0 .1,0 .1,0 .1,0 .1,.1 .2,0 .1,0 .1,0 .1,0 .1-.1 .2,0 .1,0 .1,0 .1,0 .1,0 .2,0 .1,0 .1-.1 .1,0 .1,0 .2,0 .1-.1 .1,0 .1-.1 .1,0 .2-.1 .1-.1 .1-.1 .1-.1 .1-.2 .2-.2 .1-.3 .1-.5M226.4,470.9l.2,0M229.2,471.1l.1,.5 .1,.3 .2,.2 .1,.1 .1,.2 .1,.1 .1,0 .2,.1 .1,.1 .1,0 .1,0 .1,.1 .2,0 .1,0 .1,.1 .1,0 .1,0 .2,0 .1,0 .1,.1 .1,0 .1,0 .2,0 .1,0 .1,0 .1,0 .1,0 .2,0 .1,0 .1,0 .1,0 .1,0 .2,0 .1,0 .1,0 .1,0 .1,0 .2,0 .1,0 .1,0 .1-.1 .1,0 .2,0 .1,0 .1,0 .1-.1 .1,0 .2,0 .1-.1 .1,0 .1-.1 .1-.1 .2-.1 .1-.2 .1-.3 .1-.5M238.1,471l.1,.4 .1,.2 .1,.1 .2,0 .1,0 .1,0 .1-.2 .1-.1 .2-.3M242,471.4l.2,.3 .1,.2 .1,.2 .1,.2 .1,.1 .2,.1 .1,.1 .1,0 .1,.1 .1,.1 .2,0 .1,0 .1,.1 .1,0 .1,.1 .2,0 .1,0 .1,0 .1,.1 .1,0 .2,0 .1,0 .1,0 .1,0 .1,0 .2,.1 .1,0 .1,0 .1,0 .1,0 .2,0 .1,0 .1,0 .1,0 .1,0 .2,0 .1,0 .1,.1 .1,0 .1,0 .2,0 .1,0 .1,0 .1,0 .1,0 .2,0 .1,0 .1,0 .1,0 .1,0 .2,0 .1,0 .1,0 .1,0 .1,0 .2,0 .1,0 .1,0 .1,0 .1,0 .2,0 .1,0 .1,0 .1,0 .1,0 .2,0 .1,0 .1,0 .1,0 .1,0 .2,0 .1,0 .1-.1 .1,0 .1,0 .2,0 .1,0 .1,0 .1-.1 .1,0 .2-.1 .1,0 .1-.1 .1-.1 .1-.1 .2-.1 .1-.1 .1-.2 .1-.1 .1-.2 .2-.2 .1-.2 .1-.2 .1-.3M254.6,471.1l.2,.2 .1,.2 .1,.2 .1,.2 .1,.2 .2,.2 .1,.1 .1,.2 .1,.1 .1,.1 .2,.1 .1,.1 .1,0 .1,.1 .1,0 .2,0 .1,0 .1,.1 .1,0 .1,0 .2,0 .1,0 .1,0 .1,0 .1,0 .2,0 .1,0 .1,0 .1,0 .1,0 .2,0 .1,0 .1,0 .1,0 .1,0 .2,0 .1,0 .1-.1 .1,0 .1,0 .2,0 .1,0 .1-.1 .1,0 .1,0 .2-.1 .1,0 .1-.1 .1-.1 .1-.1 .2-.1 .1-.2 .1-.1 .1-.3 .1-.2 .2-.3M264.7,471.3l.1,.3 .2,.2 .1,.2 .1,.1 .1,.1 .1,0 .2,.1 .1,0 .1,0 .1-.1 .1-.1 .2-.1 .1-.3 .1-.4M272.2,471.4l.1,.3 .1,.3 .1,.2 .1,.2 .2,.1 .1,.2 .1,.1 .1,.1 .1,0 .2,.1 .1,0 .1,.1 .1,0 .1,0 .2,.1 .1,0 .1,0 .1,0 .1,0 .2,0 .1,.1 .1,0 .1,0 .1,0 .2,0 .1,0 .1,0 .1,0 .1,0 .2,0 .1,0 .1,0 .1,0 .1,0 .2,0 .1,0 .1,0 .1,0 .1,0 .2,0 .1,0 .1,0 .1,0 .1,0 .2,0 .1,0 .1,0 .1,0 .1,0 .2,0 .1,0 .1-.1 .1,0 .1,0 .2,0 .1,0 .1,0 .1-.1 .1,0 .2,0 .1-.1 .1,0 .1,0 .1-.1 .2-.1 .1,0 .1-.1 .1-.1 .1-.2 .2-.2 .1-.3 .1-.4M286.7,471.3l.1,.4 .1,.3 .1,.2 .2,.2 .1,.2 .1,.1 .1,.1 .1,.1 .2,.1 .1,0 .1,.1 .1,0 .1,0 .2,.1 .1,0 .1,0 .1,0 .1,.1 .2,0 .1,0 .1,0 .1,0 .1,0 .2,0 .1,0 .1,.1 .1,0 .1,0 .2,0 .1,0 .1,0 .1,0 .1,0 .2,0 .1,0 .1,0 .1,0 .1,0 .2,0 .1,0 .1,0 .1,0 .1,0 .2,0 .1,0 .1,0 .1,0 .1,0 .2,0 .1,0 .1,0 .1,0 .1,0 .2,0 .1-.1 .1,0 .1,0 .1,0 .2,0 .1,0 .1,0 .1,0 .1-.1 .2,0 .1,0 .1,0 .1-.1 .1,0 .2,0 .1-.1 .1,0 .1-.1 .1-.1 .2-.1 .1-.1 .1-.2 .1-.1 .1-.3 .2-.2 .1-.4M302.4,471.6l.1,.3 .1,.1 .2,.1 .1,.1 .1,.1 .1,0 .1,0 .2,0 .1-.1 .1,0 .1-.1 .1-.2 .2-.1 .1-.2 .1-.3M317.9,471.5l.1,.3 .1,.2 .1,.1 .2,.2 .1,.1 .1,.1 .1,0 .1,.1 .2,0 .1,0 .1,.1 .1,0 .1,0 .2-.1 .1,0 .1,0 .1-.1 .1,0 .2-.1 .1-.1 .1-.1 .1-.3 .1-.3M323.3,471.5l.1,.4 .1,.3 .1,.2 .2,.1 .1,.2 .1,.1 .1,0 .1,.1 .2,0 .1,.1 .1,0 .1,.1 .1,0 .2,0 .1,.1 .1,0 .1,0 .1,0 .2,0 .1,0 .1,.1 .1,0 .1,0 .2,0 .1,0 .1,0 .1,0 .1,0 .2,0 .1,0 .1,0 .1,0 .1,0 .2,0 .1,.1 .1,0 .1,0 .1,0 .2,0 .1,0 .1,0 .1,0 .1,0 .2-.1 .1,0 .1,0 .1,0 .1,0 .2,0 .1,0 .1,0 .1,0 .1,0 .2,0 .1-.1 .1,0 .1,0 .1,0 .2-.1 .1-.1 .1,0 .1-.1 .1-.1 .2-.1 .1-.2 .1-.1 .1-.2 .1-.2 .2-.2 .1-.2 .1-.2 .1-.2M333.4,471.3l.1,.2 .1,.2 .1,.2 .1,.2 .2,.1 .1,.2 .1,.1 .1,.1 .1,.1 .2,.1 .1,.1 .1,0 .1,0 .1,.1 .2,0 .1,0 .1,0 .1,0 .1,0 .2-.1 .1,0 .1-.1 .1,0 .1-.1 .2-.1 .1-.1 .1-.2 .1-.2 .1-.2 .2-.3 .1-.3M340.2,471.4l.1,.2 .1,.3 .2,.1 .1,.2 .1,.1 .1,.1 .1,0 .2,.1 .1,0 .1,0 .1,0 .1-.1 .2-.1 .1-.1 .1-.1 .1-.2 .1-.1 .2-.3 .1-.2M349.1,470.8l.1,.3 .1,.2 .1,.2 .2,.1 .1,.1 .1,.1 .1,0 .1-.1 .2-.1 .1-.1 .1-.3 .1-.5M352.7,470.8l.1,.5 .1,.4 .1,.2 .2,.2 .1,.1 .1,.1 .1,0 .1,.1 .2,0 .1,0 .1,0 .1,.1 .1,0 .2,0 .1,0 .1,0 .1,0 .1,0 .2,0 .1-.1 .1,0 .1,0 .1,0 .2-.1 .1,0 .1-.1 .1,0 .1-.1 .2-.1 .1-.1 .1-.1 .1,0 .1-.1 .2-.1 .1-.1 .1-.2 .1-.1 .1-.1 .2,0 .1-.1 .1-.1 .1-.1 .1,0 .2,0 .1,0 .1,0 .1,.1 .1,0 .2,.1 .1,.1 .1,.1 .1,.1 .1,.1 .2,.1 .1,.1 .1,.1 .1,.1 .1,.1 .2,.1 .1,.1 .1,0 .1,.1 .1,0 .2,.1 .1,0 .1,.1 .1,0 .1,0 .2,0 .1,0 .1,0 .1,0 .1,0 .2,0 .1,0 .1-.1 .1,0 .1-.1 .2,0 .1-.1 .1,0 .1-.1 .1-.1 .2-.1 .1,0 .1-.1 .1-.1 .1-.1 .2-.1 .1,0 .1-.1 .1,0 .1,0 .2-.1 .1,0 .1,.1 .1,0 .1,0 .2,.1 .1,0 .1,.1 .1,.1 .1,0 .2,.1 .1,.1 .1,0 .1,.1 .1,.1 .2,0 .1,0 .1,.1 .1,0 .1,0 .2,0 .1,0 .1-.1 .1,0 .1-.1 .2,0 .1-.1 .1-.1 .1-.1 .1-.1 .2-.1 .1-.1 .1-.1 .1-.2 .1-.1 .2-.1 .1-.2 .1-.1M369.6,470.5l.1,.1 .1,.2 .2,.1 .1,.1 .1,.1 .1,.1 .1,.2 .2,.1 .1,.1 .1,.1 .1,0 .1,.1 .2,.1 .1,0 .1,0 .1,0 .1,.1 .2-.1 .1,0 .1,0 .1-.1 .1,0 .2-.1 .1-.1 .1,0 .1-.1 .1-.1 .2-.1 .1-.1 .1-.1 .1-.1 .1-.1 .2-.1 .1,0 .1-.1 .1,0 .1,0 .2,0 .1,.1 .1,0 .1,.1 .1,.1 .2,.1 .1,.1 .1,.1 .1,.1 .1,.1 .2,.1 .1,0 .1,.1 .1,.1 .1,.1 .2,0 .1,.1 .1,0 .1,.1 .1,0 .2,0 .1,0 .1,0 .1,0 .1,0 .2-.1 .1,0 .1-.1 .1,0 .1-.1 .2-.1 .1,0 .1-.1 .1-.1 .1-.1 .2,0 .1-.1 .1,0 .1-.1 .1,0 .2,0 .1,0 .1,0 .1,0 .1,.1 .2,0 .1,.1 .1,.1 .1,.1 .1,0 .2,.1 .1,.1 .1,.1 .1,0 .1,.1 .2,.1 .1,0 .1,.1 .1,0 .1,.1 .2,0 .1,0 .1,0 .1,0 .1,0 .2,0 .1,0 .1,0 .1,0 .1,0 .2-.1 .1,0 .1-.1 .1,0 .1-.1 .2-.1 .1-.1 .1-.1 .1,0 .1-.2 .2-.1 .1-.1 .1-.1 .1-.1 .1-.1 .2-.1 .1-.1 .1,0 .1-.1 .1,0 .2-.1 .1,0 .1,.1 .1,0 .1,.1 .2,0 .1,.1 .1,.1 .1,.1 .1,.1 .2,.1 .1,0 .1,.1 .1,.1 .1,.1 .2,0 .1,.1 .1,0 .1,0 .1,0 .2,0 .1,0 .1,0 .1-.1 .1-.1 .2-.1 .1-.1 .1-.1 .1-.1 .1-.2 .2-.1 .1-.2 .1-.2M391.3,470.4l.1,.1 .2,.2 .1,.1 .1,.1 .1,0 .1,.1 .2,0 .1,.1 .1,0 .1-.1 .1,0 .2,0 .1-.1 .1,0 .1-.1 .1-.1 .2,0 .1-.1 .1,0 .1-.1 .1,0 .2,0 .1,0 .1,.1 .1,0 .1,.1 .2,0 .1,.1 .1,.1 .1,.1 .1,.1 .2,.1 .1,.1 .1,.1 .1,.1 .1,.1 .2,.1 .1,0 .1,.1 .1,0 .1,0 .2,0 .1,0 .1,0 .1,0 .1,0 .2-.1 .1-.1 .1,0 .1-.1 .1-.1 .2-.1 .1-.1 .1-.2 .1-.1 .1-.1 .2-.1 .1-.1 .1-.2 .1,0M399.5,470.4l.1,.1 .1,.1 .1,.1 .2,.2 .1,.1 .1,.1 .1,.2 .1,.1 .2,.1 .1,.1 .1,.2 .1,.1 .1,.1 .2,0 .1,.1 .1,.1 .1,0 .1,.1 .2,.1"/>
<path stroke="none" marker-start="url(#mB)" marker-mid="url(#mB)" marker-end="url(#mB)" d="M104,467.9l.2-1 .1-1.2 .1-1.5 .1-1.6 .1-1.7 .2-1.5 .1-1.1 .1-.3 .1,.4 .1,1.1 .2,1.5 .1,1.7 .1,1.6 .1,1.6 .1,1.2 .2,1M131.5,467.1l.1-.8 .2-1 .1-1.4 .1-2 .1-2.6 .1-3.3 .2-3.9 .1-4.4 .1-4.6 .1-4.3 .1-3.3 .2-1.7 .1,.3 .1,2.3 .1,3.8 .1,4.4 .2,4.5 .1,4.3 .1,3.7 .1,3 .1,2.4 .2,1.8 .1,1.3 .1,.9M172.3,466.2l.1-1 .2-1.4 .1-1.7 .1-2.1 .1-2.3 .1-2.6 .2-2.5 .1-2.1 .1-1.4 .1-.4 .1,.8 .2,1.7 .1,2.4 .1,2.6 .1,2.5 .1,2.4 .2,2 .1,1.6 .1,1.3 .1,1M245.8,470.5l.1-.8 .1-1 .1-1.2 .1-1.5 .2-1.7 .1-1.8 .1-1.9 .1-1.6 .1-1.3 .2-.7 .1,.2 .1,.8 .1,1.5 .1,1.7 .2,1.9 .1,1.8 .1,1.6 .1,1.4 .1,1.2 .2,.9M275.2,470.8l.1-.7 .1-.9 .1-1.3 .1-1.6 .2-1.9 .1-2.2 .1-2.5 .1-2.6 .1-2.6 .2-2.1 .1-1.5 .1-.6 .1,.6 .1,1.5 .2,2.1 .1,2.6 .1,2.6 .1,2.5 .1,2.3 .2,1.9 .1,1.5 .1,1.3 .1,.9 .1,.7"/>
<path stroke="none" marker-start="url(#mB2)" marker-mid="url(#mB2)" marker-end="url(#mB2)" d="M49.2,462.2l.1,.1 .1,0 .2,0 .1,.1 .1,0 .1,0 .1,.1 .2,0 .1,0 .1,.1 .1,0 .1,0 .2,0 .1,.1 .1,0 .1,0 .1,.1 .2,0 .1,0 .1,.1 .1,0 .1,0 .2,.1 .1,0 .1,0 .1,0 .1,.1 .2,0 .1,0 .1,.1 .1,0 .1,0 .2,.1 .1,0 .1,0 .1,.1 .1,0 .2,0 .1,0 .1,.1 .1,0 .1,0 .2,.1 .1,0 .1,0 .1,.1 .1,0 .2,0 .1,.1 .1,0 .1,0 .1,0 .2,.1 .1,0 .1,0 .1,.1 .1,0 .2,0 .1,.1 .1,0 .1,0 .1,.1 .2,0 .1,0 .1,0 .1,.1 .1,0 .2,0 .1,.1 .1,0 .1,0 .1,0 .2,0 .1,0 .1,0 .1,0 .1,.1 .2,0 .1,0 .1,0 .1,0 .1,0 .2,0 .1,0 .1,0 .1,0 .1,0 .2,.1 .1,0 .1,0 .1,0 .1,0 .2,0 .1,0 .1,0 .1,0 .1,0 .2,0 .1,0 .1,.1 .1,0 .1,0 .2,0 .1,0 .1,0 .1,0 .1,0 .2,0 .1,0 .1,0 .1,0 .1,.1 .2,0 .1,0 .1,0 .1,0 .1,0 .2,0 .1,0 .1,0 .1,0 .1,0 .2,.1 .1,0 .1,0 .1,0 .1,0 .2,0 .1,0 .1,0 .1,0 .1,0 .2,0 .1,0 .1,.1 .1,0 .1,0 .2,0 .1,0 .1,0 .1,0 .1,0 .2,0 .1,0 .1,.1 .1,0 .1,0 .2,0 .1,0 .1,0 .1,0 .1,0 .2,0 .1,0 .1,.1 .1,0 .1,0 .2,0 .1,0 .1,0 .1,0 .1,0 .2,0 .1,.1 .1,0 .1,0 .1,0 .2,0 .1,0 .1,0 .1,0 .1,0 .2,0 .1,.1 .1,0 .1,0 .1,0 .2,0 .1,0 .1,0 .1,0 .1,0 .2,.1 .1,0 .1,0 .1,0 .1,0 .2,0 .1,0 .1,0 .1,0 .1,.1 .2,0 .1,0 .1,0 .1,0 .1,0 .2,0 .1,0 .1,0 .1,0 .1,.1 .2,0 .1,0 .1,0 .1,0 .1,0 .2,0 .1,0 .1,0 .1,.1 .1,0 .2,0 .1,0 .1,0 .1,0 .1,.1 .2,0 .1,.1 .1,0 .1,0 .1,.1 .2,0 .1,.1 .1,0 .1,0 .1,.1 .2,0 .1,.1 .1,0 .1,0 .1,.1 .2,0 .1,.1 .1,0 .1,0 .1,.1 .2,0 .1,.1 .1,0 .1,0 .1,.1 .2,0 .1,.1 .1,0 .1,0 .1,.1 .2,0 .1,.1 .1,0 .1,0 .1,.1 .2,0 .1,.1 .1,0 .1,0 .1,.1 .2,0 .1,.1 .1,0 .1,0 .1,.1 .2,0 .1,.1 .1,0 .1,0 .1,.1 .2,0 .1,.1 .1,0 .1,0 .1,.1 .2,0 .1,.1 .1,0 .1,0 .1,.1 .2,0 .1,.1 .1,0 .1,0 .1,.1 .2,0 .1,.1 .1,0 .1,0 .1,0 .2,.1 .1,0 .1,0 .1,0 .1,0 .2,0 .1,.1 .1,0 .1,0 .1,0 .2,0 .1,.1 .1,0 .1,0 .1,0 .2,0 .1,.1 .1,0 .1,0 .1,0 .2,0 .1,.1 .1,0 .1,0 .1,0 .2,0 .1,.1 .1,0 .1,0 .1,0 .2,0 .1,.1 .1,0 .1,0 .1,0 .2,0 .1,.1 .1,0 .1,0 .1,0 .2,0 .1,0 .1,.1 .1,0 .1,0 .2,0 .1,0 .1,.1 .1,0 .1,0 .2,0 .1,0 .1,.1 .1,0 .1,0 .2,0 .1,0 .1,.1 .1,0 .1,0 .2,0 .1,0 .1,.1 .1,0 .1,0 .2,0 .1,0 .1,.1 .1,0 .1,0 .2,0 .1,0 .1,0 .1,0 .1,0 .2,0 .1,0 .1,0 .1,0 .1,0 .2,0 .1,0 .1,.1 .1,0 .1,0 .2,0 .1,0 .1,0 .1,0 .1,0 .2,0 .1,0 .1,0 .1,0 .1,0 .2,0 .1,0 .1,0 .1,0 .1,0 .2,0 .1,.1 .1,0 .1,0 .1,0 .2,0 .1,0 .1,0 .1,0 .1,0 .2,0 .1,0 .1,0 .1,0 .1,0 .2,0 .1,0 .1,0 .1,0 .1,0 .2,0 .1,0 .1,0 .1,.1 .1,0 .2,0 .1,0 .1,0 .1,0 .1,0 .2,0 .1,0 .1,0 .1,0 .1,0 .2,0 .1,0 .1,0 .1,0 .1,0 .2,0 .1,0 .1,0 .1,0 .1,0 .2,0 .1,0 .1,.1 .1,0 .1,0 .2,0 .1,0 .1,0 .1,0 .1,0 .2,0 .1-.1 .1,0 .1,0 .1,0 .2,0 .1-.1 .1,0 .1-.1 .1-.1 .2-.2 .1-.3 .1-.3 .1-.6M106.1,468.9l.1,.6 .1,.4 .1,.3 .2,.2 .1,.1 .1,.1 .1,.1 .1,.1 .2,.1 .1,0 .1,.1 .1,0 .1,0 .2,.1 .1,0 .1,0 .1,.1 .1,0 .2,0 .1,.1 .1,0 .1,0 .1,0 .2,.1 .1,0 .1,0 .1,0 .1,.1 .2,0 .1,0 .1,0 .1,.1 .1,0 .2,0 .1,0 .1,.1 .1,0 .1,0 .2,0 .1,.1 .1,0 .1,0 .1,0 .2,.1 .1,0 .1,0 .1,0 .1,.1 .2,0 .1,0 .1,0 .1,0 .1,.1 .2,0 .1,0 .1,0 .1,.1 .1,0 .2,0 .1,0 .1,0 .1,.1 .1,0 .2,0 .1,0 .1,.1 .1,0 .1,0 .2,0 .1,0 .1,.1 .1,0 .1,0 .2,0 .1,0 .1,.1 .1,0 .1,0 .2,0 .1,.1 .1,0 .1,0 .1,0 .2,0 .1,.1 .1,0 .1,0 .1,0 .2,.1 .1,0 .1,0 .1,0 .1,0 .2,.1 .1,0 .1,0 .1,0 .1,0 .2,.1 .1,0 .1,0 .1,0 .1,.1 .2-.1 .1-.1 .1-.2 .1-.1 .1-.1 .2-.1 .1-.2 .1-.1 .1-.1 .1-.1 .2-.2 .1-.1 .1-.1 .1-.1 .1-.2 .2-.1 .1-.1 .1-.1 .1-.2 .1-.1 .2,0 .1,0 .1,0 .1,0 .1,0 .2,0 .1-.1 .1,0 .1,0 .1,0 .2,0 .1,0 .1,0 .1-.1 .1,0 .2,0 .1,0 .1,0 .1,0 .1-.1 .2,0 .1,0 .1,0 .1,0 .1,0 .2,0 .1-.1 .1,0 .1,0 .1,0 .2,0 .1,0 .1-.1 .1,0 .1,0 .2,0 .1,0 .1,0 .1-.1 .1,0 .2,0 .1,0 .1,0 .1,0 .1-.1 .2,0 .1,0 .1,0 .1,0 .1-.1 .2,0 .1,0 .1,0 .1,0 .1-.1 .2,0 .1,0 .1,0 .1-.1 .1,0 .2,0 .1,0 .1-.1 .1,0 .1,0 .2,0 .1-.1 .1,0 .1,0 .1-.1 .2,0 .1-.1 .1,0 .1,0 .1-.1 .2,0 .1-.1 .1,0 .1-.1 .1-.1 .2,0 .1-.1 .1-.1 .1-.2 .1-.1 .2-.2 .1-.3 .1-.3M134.5,467.1l.1,.5 .2,.3 .1,.2 .1,.2 .1,.1 .1,.1 .2,.1 .1,.1 .1,.1 .1,0 .1,.1 .2,0 .1,.1 .1,0 .1,.1 .1,0 .2,0 .1,0 .1,.1 .1,0 .1,0 .2,0 .1,0 .1,0 .1,0 .1,0 .2,.1 .1,0 .1,0 .1,0 .1,0 .2,0 .1,0 .1,0 .1,0 .1,0 .2,0 .1,0 .1,0 .1,0 .1,0 .2,0 .1,0 .1,0 .1,0 .1,0 .2,0 .1,0 .1,0 .1,0 .1,0 .2,0 .1,0 .1,0 .1,0 .1,0 .2,0 .1,0 .1-.1 .1,0 .1,0 .2,0 .1,0 .1,0 .1,0 .1,0 .2,0 .1,0 .1,0 .1,0 .1-.1 .2,0 .1,0 .1,0 .1,0 .1,0 .2,0 .1,0 .1,0 .1,0 .1-.1 .2,0 .1,0 .1,0 .1,0 .1,0 .2,0 .1,0 .1,0 .1,0 .1,0 .2-.1 .1,0 .1,0 .1,0 .1,0 .2,0 .1,0 .1,0 .1,0 .1,0 .2-.1 .1,0 .1,0 .1,0 .1,0 .2,0 .1,0 .1,0 .1,0 .1,0 .2-.1 .1,0 .1,0 .1,0 .1,0 .2,0 .1,0 .1,0 .1,0 .1,0 .2-.1 .1,0 .1,0 .1,0 .1,0 .2,0 .1,0 .1,0 .1,0 .1,0 .2-.1 .1,0 .1,0 .1,0 .1,0 .2,0 .1,0 .1,0 .1,0 .1-.1 .2,0 .1,0 .1,0 .1,0 .1,0 .2,0 .1,0 .1,0 .1,0 .1-.1 .2,0 .1,0 .1,0 .1,0 .1,0 .2,0 .1,0 .1,0 .1,0 .1,0 .2-.1 .1,0 .1,0 .1,0 .1,0 .2,0 .1,0 .1,0 .1,0 .1,0 .2,0 .1-.1 .1,0 .1,0 .1,0 .2,0 .1,0 .1,0 .1,0 .1,0 .2,0 .1,0 .1-.1 .1,0 .1,0 .2,0 .1,0 .1,0 .1,0 .1,0 .2,0 .1,0 .1-.1 .1,0 .1,0 .2,0 .1,0 .1,0 .1,0 .1,0 .2,0 .1,0 .1,0 .1-.1 .1,0 .2,0 .1,0 .1,0 .1,0 .1,0 .2,0 .1,0 .1,0 .1,0 .1,0 .2,0 .1,.1 .1,0 .1,0 .1,0 .2,0 .1,0 .1,0 .1,0 .1,.1 .2,0 .1,0 .1,0 .1,0 .1,0 .2,0 .1,.1 .1,0 .1,0 .1,0 .2,0 .1,0 .1,0 .1,.1 .1,0 .2,0 .1,0 .1,0 .1,0 .1,0 .2,.1 .1,0 .1,0 .1,0 .1,0 .2,0 .1,0 .1,0 .1,.1 .1,0 .2,0 .1,0 .1,0 .1,0 .1,0 .2,0 .1,.1 .1,0 .1,0 .1,0 .2,0 .1,0 .1,0 .1,0 .1,.1 .2,0 .1,0 .1,0 .1,0 .1,0 .2,0 .1,0 .1,0 .1,0 .1,.1 .2,0 .1,0 .1,0 .1,0 .1,0 .2,0 .1,0 .1,0 .1,0 .1,0 .2,0 .1,0 .1,0 .1,0 .1,0 .2,0 .1,0 .1,0 .1,0 .1,0 .2,0 .1,0 .1,0 .1-.1 .1,0 .2,0 .1-.1 .1-.1 .1-.1 .1-.2 .2-.2 .1-.4 .1-.5M174.8,467.7l.2,.5 .1,.4 .1,.3 .1,.2 .1,.1 .2,.1 .1,.1 .1,.1 .1,.1 .1,.1 .2,.1 .1,0 .1,.1 .1,0 .1,.1 .2,0 .1,.1 .1,0 .1,.1 .1,0 .2,0 .1,.1 .1,0 .1,0 .1,.1 .2,0 .1,0 .1,.1 .1,0 .1,0 .2,.1 .1,0 .1,0 .1,.1 .1,0 .2,0 .1,0 .1,.1 .1,0 .1,0 .2,.1 .1,0 .1,0 .1,0 .1,0 .2,.1 .1,0 .1,0 .1,0 .1,0 .2,0 .1,0 .1,.1 .1,0 .1,0 .2,0 .1,0 .1,0 .1,0 .1,.1 .2,0 .1,0 .1,0 .1,0 .1,0 .2,0 .1,0 .1,.1 .1,0 .1,0 .2,0 .1,0 .1,0 .1,0 .1,0 .2,.1 .1,0 .1,0 .1,0 .1,0 .2,0 .1,0 .1,0 .1,.1 .1,0 .2,0 .1,0 .1,0 .1,0 .1,0 .2,0 .1,.1 .1,0 .1,0 .1,0 .2,0 .1,0 .1,0 .1,0 .1,.1 .2,0 .1,0 .1,0 .1,0 .1,0 .2,0 .1,0 .1,.1 .1,0 .1,0 .2,0 .1,0 .1,0 .1,0 .1,0 .2,.1 .1,0 .1,0 .1,0 .1,0 .2,0 .1,0 .1,0 .1,.1 .1,0 .2,0 .1,0 .1,0 .1,0 .1,0 .2,0 .1,.1 .1,0 .1,0 .1,0 .2,0 .1,0 .1,0 .1,0 .1,0 .2,.1 .1,0 .1,0 .1,0 .1,0 .2,0 .1,0 .1,0 .1,.1 .1,0 .2,0 .1,0 .1,0 .1,0 .1,0 .2,0 .1,.1 .1,0 .1,0 .1,0 .2,0 .1,0 .1,0 .1,0 .1,.1 .2,0 .1,0 .1,0 .1,0 .1,0 .2,0 .1,0 .1,0 .1,.1 .1,0 .2,0 .1,0 .1,0 .1,0 .1,0 .2,0 .1,.1 .1,0 .1,0 .1,0 .2,0 .1,0 .1,0 .1,0 .1,.1 .2,0 .1,0 .1,0 .1,0 .1,0 .2,0 .1,0 .1,.1 .1,0 .1,0 .2,0 .1,0 .1,0 .1,0 .1,0 .2,0 .1,.1 .1,0 .1,0 .1,0 .2,0 .1,0 .1,0 .1,0 .1,0 .2,0 .1,0 .1,0 .1,0 .1,0 .2,0 .1,0 .1,0 .1,0 .1,0 .2,0 .1,0 .1,0 .1,0 .1,0 .2,0 .1,0 .1,0 .1,0 .1,0 .2,0 .1,0 .1,0 .1,0 .1,0 .2,0 .1,0 .1,0 .1,0 .1,0 .2,0 .1,0 .1,0 .1,0 .1,0 .2,0 .1,0 .1,0 .1,0 .1,0 .2,0 .1,0 .1,0 .1,0 .1,0 .2,0 .1,0 .1,0 .1,0 .1,0 .2,0 .1,0 .1,0 .1,0 .1,0 .2,0 .1,0 .1,0 .1,0 .1,0 .2,0 .1,0 .1,0 .1,0 .1,0 .2,0 .1,0 .1,0 .1,0 .1,0 .2,0 .1,0 .1,0 .1,0 .1,0 .2,0 .1,0 .1,0 .1,0 .1,0 .2,0 .1,0 .1,0 .1,0 .1,0 .2,0 .1,0 .1,0 .1,0 .1,0 .2,0 .1,0 .1,0 .1,0 .1,0 .2,0 .1,0 .1,0 .1,0 .1,0 .2,0 .1,0 .1,0 .1,0 .1,0 .2,0 .1,0 .1,0 .1,0 .1,0 .2,0 .1,0 .1,0 .1,0 .1,0 .2,0 .1,0 .1,0 .1,0 .1,0 .2,0 .1,0 .1,0 .1,0 .1,0 .2,0 .1,0 .1,0 .1,0 .1,0 .2,0 .1,0 .1,0 .1,0 .1,0 .2,0 .1,0 .1,0 .1,0 .1,0 .2,0 .1,0 .1,0 .1,0 .1,0 .2,0 .1,0 .1,0 .1,0 .1,0 .2,0 .1,0 .1,0 .1,0 .1,0 .2,0 .1,0 .1,0 .1,0 .1,0 .2,0 .1,0 .1,0 .1,0 .1,0 .2,0 .1,0 .1,0 .1,0 .1,0 .2,0 .1,0 .1,0 .1,0 .1,0 .2,0 .1,0 .1,0 .1,0 .1,0 .2,0 .1,0 .1,0 .1,0 .1,0 .2,0 .1,0 .1,0 .1,0 .1,0 .2,0 .1,0 .1,0 .1,0 .1,0 .2,0 .1,0 .1,0 .1,0 .1,0 .2,0 .1,0 .1,0 .1,0 .1,0 .2,0 .1,0 .1,0 .1,0 .1,0 .2,0 .1,0 .1,0 .1,0 .1,0 .2,0 .1,0 .1,0 .1,0 .1,0 .2,0 .1,0 .1,0 .1,0 .1,0 .2,0 .1,0 .1,0 .1,0 .1,0 .2,0 .1,0 .1,0 .1,0 .1,0 .2,0 .1,0 .1,0 .1,0 .1,0 .2,0 .1,0 .1,0 .1,0 .1,0 .2,0 .1,0 .1,0 .1,0 .1,0 .2,0 .1,0 .1,0 .1,0 .1,0 .2,0 .1,0 .1,0 .1,0 .1,0 .2,0 .1,0 .1,0 .1,0 .1,0 .2,0 .1,0 .1,0 .1,0 .1,0 .2,0 .1,0 .1,0 .1,0 .1,0 .2,0 .1,0 .1,0 .1,0 .1,0 .2,0 .1,0 .1,0 .1,0 .1,0 .2,0 .1,0 .1,0 .1,0 .1,0 .2,0 .1,0 .1,0 .1,0 .1,0 .2,0 .1,0 .1,0 .1,0 .1,0 .2,0 .1,0 .1,0 .1,0 .1,0 .2,0 .1,0 .1,0 .1,0 .1,0 .2,0 .1,0 .1,0 .1,0 .1,0 .2,0 .1,0 .1,0 .1-.1 .1,0 .2,0 .1,0 .1,0 .1,0 .1,0 .2,0 .1,0 .1,0 .1,0 .1,0 .2,0 .1,0 .1,0 .1,0 .1,0 .2,0 .1,0 .1,0 .1,0 .1,0 .2,0 .1,0 .1,0 .1,0 .1,0 .2,0 .1,0 .1,0 .1-.1 .1,0 .2,0 .1,0 .1,0 .1,0 .1,0 .2,0 .1,0 .1-.1 .1,0 .1,0 .2,0 .1,0 .1-.1 .1,0 .1,0 .2-.1 .1,0 .1-.1 .1-.1 .1,0 .2-.2 .1-.1 .1-.2 .1-.3 .1-.4M248.3,470.7l.1,.5 .1,.4 .1,.3 .2,.1 .1,.2 .1,.1 .1,.1 .1,0 .2,.1 .1,0 .1,.1 .1,0 .1,0 .2,.1 .1,0 .1,0 .1,0 .1,.1 .2,0 .1,0 .1,0 .1,0 .1,0 .2,0 .1,0 .1,.1 .1,0 .1,0 .2,0 .1,0 .1,0 .1,0 .1,0 .2,0 .1,0 .1,0 .1,0 .1,0 .2,0 .1,0 .1,.1 .1,0 .1,0 .2,0 .1,0 .1,0 .1,0 .1,0 .2,0 .1,0 .1,0 .1,0 .1,0 .2,0 .1,0 .1,0 .1,0 .1,0 .2,0 .1,0 .1,0 .1,0 .1,0 .2,0 .1,0 .1,0 .1,0 .1,0 .2,0 .1,0 .1,0 .1,0 .1,0 .2,0 .1,0 .1,0 .1,0 .1,.1 .2,0 .1,0 .1,0 .1,0 .1,0 .2,0 .1,0 .1,0 .1,0 .1,0 .2,0 .1,0 .1,0 .1,0 .1,0 .2,0 .1,0 .1,0 .1,0 .1,0 .2,0 .1,0 .1,0 .1,0 .1,0 .2,0 .1,0 .1,0 .1,0 .1,0 .2,0 .1,0 .1,0 .1,0 .1,0 .2,0 .1,0 .1,0 .1,0 .1,0 .2,0 .1,0 .1,0 .1,0 .1,0 .2,0 .1,0 .1,0 .1,0 .1,0 .2,0 .1,0 .1,0 .1,0 .1,0 .2,0 .1,0 .1,0 .1,0 .1,0 .2,0 .1,0 .1,0 .1,0 .1,0 .2,0 .1,0 .1,0 .1,0 .1,0 .2,0 .1,0 .1,0 .1,0 .1,0 .2,0 .1,0 .1,0 .1,0 .1,0 .2,0 .1,0 .1,0 .1,0 .1,0 .2,0 .1,0 .1,0 .1,0 .1,0 .2,0 .1,0 .1,0 .1,0 .1,0 .2,0 .1,0 .1,0 .1,0 .1,0 .2,0 .1,0 .1,0 .1,0 .1,0 .2,0 .1,0 .1,0 .1,0 .1,0 .2,0 .1,0 .1,0 .1,0 .1,0 .2,0 .1,0 .1,0 .1,0 .1-.1 .2,0 .1,0 .1,0 .1,0 .1,0 .2,0 .1,0 .1-.1 .1,0 .1,0 .2,0 .1-.1 .1,0 .1,0 .1-.1 .2,0 .1-.1 .1,0 .1-.1 .1-.1 .2-.1 .1-.2 .1-.2 .1-.2 .1-.4M278.2,471.3l.1,.4 .1,.3 .1,.2 .1,.1 .2,.1 .1,.1 .1,.1 .1,.1 .1,0 .2,.1 .1,0 .1,.1 .1,0 .1,0 .2,.1 .1,0 .1,0 .1,0 .1,.1 .2,0 .1,0 .1,0 .1,0 .1,0 .2,.1 .1,0 .1,0 .1,0 .1,0 .2,0 .1,0 .1,0 .1,0 .1,0 .2,.1 .1,0 .1,0 .1,0 .1,0 .2,0 .1,0 .1,0 .1,0 .1,0 .2,0 .1,0 .1,0 .1,0 .1,0 .2,0 .1,0 .1,0 .1,0 .1,0 .2,0 .1,.1 .1,0 .1,0 .1,0 .2,0 .1,0 .1,0 .1,0 .1,0 .2,0 .1,0 .1,0 .1,0 .1,0 .2,0 .1,0 .1,0 .1,0 .1,0 .2,0 .1,0 .1,0 .1,0 .1,0 .2,0 .1,0 .1,0 .1,0 .1,0 .2,0 .1,0 .1,0 .1,0 .1,0 .2,0 .1,0 .1,0 .1,0 .1,0 .2,0 .1,0 .1,0 .1,.1 .1,0 .2,0 .1,0 .1,0 .1,0 .1,0 .2,0 .1,0 .1,0 .1,0 .1,0 .2,0 .1,0 .1,0 .1,0 .1,0 .2,0 .1,0 .1,0 .1,0 .1,0 .2,0 .1,0 .1,0 .1,0 .1,0 .2,0 .1,0 .1,0 .1,0 .1,0 .2,0 .1,0 .1,0 .1,0 .1,0 .2,0 .1,0 .1,0 .1,0 .1,0 .2,0 .1,0 .1,0 .1,0 .1,0 .2,0 .1,0 .1,0 .1,0 .1,0 .2,0 .1,0 .1,0 .1,0 .1,0 .2,0 .1,0 .1,.1 .1,0 .1,0 .2,0 .1,0 .1,0 .1,0 .1,0 .2,0 .1,0 .1,0 .1,0 .1,0 .2,0 .1,0 .1,0 .1,0 .1,0 .2,0 .1,0 .1,0 .1,0 .1,0 .2,0 .1,0 .1,0 .1,0 .1,0 .2,0 .1,0 .1,0 .1,0 .1,0 .2,0 .1,0 .1,0 .1,0 .1,0 .2,0 .1,0 .1,0 .1,0 .1,0 .2,0 .1,0 .1,0 .1,0 .1,0 .2,0 .1,0 .1,0 .1,0 .1,0 .2,0 .1,0 .1,0 .1,.1 .1,0 .2,0 .1,0 .1,0 .1,0 .1,0 .2,0 .1,0 .1,0 .1,0 .1,0 .2,0 .1,0 .1,0 .1,0 .1,0 .2,0 .1,0 .1,0 .1,0 .1,0 .2,0 .1,0 .1,0 .1,0 .1,0 .2,0 .1,0 .1,0 .1,0 .1,0 .2,0 .1,0 .1,0 .1,0 .1,0 .2,0 .1,0 .1,0 .1,0 .1,0 .2,0 .1,0 .1,0 .1,0 .1,0 .2,0 .1,0 .1,0 .1,0 .1,.1 .2,0 .1,0 .1,0 .1,0 .1,0 .2,0 .1,0 .1,0 .1,0 .1,0 .2,0 .1,0 .1,0 .1,0 .1,0 .2,0 .1,0 .1,0 .1,0 .1,0 .2,0 .1,0 .1,0 .1,0 .1,0 .2,0 .1,0 .1,0 .1,0 .1,0 .2,0 .1,0 .1,0 .1,0 .1,0 .2,0 .1,0 .1,0 .1,0 .1,0 .2,0 .1,0 .1,0 .1,0 .1,0 .2,0 .1,0 .1,0 .1,0 .1,0 .2,.1 .1,0 .1,0 .1,0 .1,0 .2,0 .1,0 .1,0 .1,0 .1,0 .2,0 .1,0 .1,0 .1,0 .1,0 .2,0 .1,0 .1,0 .1,0 .1,0 .2,0 .1,0 .1,0 .1,0 .1,0 .2,0 .1,0 .1,0 .1,0 .1,0 .2,0 .1,0 .1,0 .1,0 .1,0 .2,0 .1,0 .1,0 .1,0 .1,0 .2,0 .1,0 .1,0 .1,0 .1,0 .2,0 .1,0 .1,0 .1,0 .1,0 .2,0 .1,0 .1,.1 .1,0 .1,0 .2,0 .1,0 .1,0 .1,0 .1,0 .2,0 .1,0 .1,0 .1,0 .1,0 .2,0 .1,0 .1,0 .1,0 .1,0 .2,0 .1,0 .1,0 .1,0 .1,0 .2,0 .1,0 .1,0 .1,0 .1,0 .2,0 .1,0 .1,0 .1,0 .1,0 .2,0 .1,0 .1,0 .1,0 .1,0 .2,0 .1,0 .1,0 .1,0 .1,0 .2,0 .1,0 .1,0 .1,0 .1,0 .2,0 .1,0 .1,0 .1,0 .1,0 .2,0 .1,.1 .1,0 .1,0 .1,0 .2,0 .1,0 .1,0 .1,0 .1,0 .2,0 .1,0 .1,0 .1,0 .1,0 .2,0 .1,0 .1,0 .1,0 .1,0 .2,0 .1,0 .1,0 .1,0 .1,0 .2,0 .1,0 .1,0 .1,0 .1,0 .2,0 .1,0 .1,0 .1,0 .1,0 .2,0 .1,0 .1,0 .1,0 .1,0 .2,0 .1,0 .1,0 .1,0 .1,0 .2,0 .1,0 .1,0 .1,0 .1,0 .2,0 .1,0 .1,0 .1,0 .1,0 .2,0 .1,0 .1,0 .1-.1 .1,0 .2,0 .1,0 .1-.1 .1-.1 .1-.1 .2-.1 .1-.1 .1-.2 .1-.2 .1-.2 .2-.2 .1-.2 .1-.2 .1-.1 .1,0 .2,.1 .1,.1 .1,.2 .1,.2 .1,.2 .2,.3 .1,.1 .1,.2 .1,.1 .1,.1 .2,.1 .1,.1 .1,0 .1,.1 .1,0 .2,0 .1,0 .1,0 .1,.1 .1,0 .2,0 .1,0 .1,0 .1,0 .1,0 .2,0 .1,0 .1,0 .1,0 .1,0 .2,0 .1,0 .1,0 .1,0 .1,0 .2,0 .1,0 .1,0 .1,.1 .1,0 .2,0 .1,0 .1,0 .1,0 .1,0 .2,0 .1,0 .1,0 .1,0 .1,0 .2,0 .1,0 .1,0 .1,0 .1,0 .2,0 .1,0 .1,0 .1,0 .1,0 .2,0 .1,0 .1,0 .1,0 .1,0 .2,0 .1,0 .1,0 .1,0 .1,0 .2,0 .1,0 .1,0 .1,0 .1,0 .2,0 .1,0 .1,0 .1,0 .1,0 .2,0 .1,0 .1,.1 .1,0 .1,0 .2,0 .1,0 .1,0 .1,0 .1,0 .2,0 .1,0 .1,0 .1,0 .1,0 .2,0 .1,0 .1,0 .1,0 .1,0 .2,0 .1,0 .1,0 .1,0 .1,0 .2,0 .1,0 .1,0 .1,0 .1,0 .2,0 .1,0 .1,0 .1,0 .1,0 .2,0 .1,0 .1,0 .1,0 .1,0 .2,0 .1,0 .1,0 .1,0 .1,0 .2,.1 .1,0 .1,0 .1,0 .1,0 .2,0 .1,0 .1,0 .1,0 .1,0 .2,0 .1,0 .1,0 .1,0 .1,0 .2,0 .1,0 .1,0 .1,0 .1,0 .2,0 .1,0 .1,0 .1,0 .1,0 .2,0 .1,0 .1,0 .1,0 .1,0 .2,0 .1,0 .1,0 .1,0 .1,0 .2,0 .1,0 .1,.1 .1,0 .1,0 .2,0 .1,0 .1,0 .1,0 .1,0 .2,0 .1,0 .1,0 .1,0 .1,0 .2,0 .1,0 .1,0 .1,0 .1,0 .2,0 .1,0 .1,0 .1,0 .1,0 .2,0 .1,0 .1,0 .1,0 .1,0 .2,0 .1,0 .1,0 .1,0 .1,0 .2,0 .1,0 .1,0 .1,0 .1,0 .2,0 .1,0 .1,0 .1,0 .1,0 .2-.1 .1,0 .1,0 .1-.1 .1,0 .2-.1 .1-.1 .1-.1 .1-.2 .1-.2 .2-.2 .1-.2 .1-.2 .1-.2 .1-.1 .2-.1 .1,0 .1,.1 .1,.2 .1,.2 .2,.2 .1,.2 .1,.2 .1,.2 .1,.2 .2,.1 .1,.1 .1,.1 .1,0 .1,.1 .2,0 .1,0 .1,.1 .1,0 .1,0 .2,0 .1,0 .1,0 .1,0 .1,0 .2,0 .1,0 .1,.1 .1,0 .1,0 .2,0 .1,0 .1,0 .1,0 .1,0 .2,0 .1,0 .1,0 .1,0 .1,0 .2,0 .1,0 .1,0 .1,0 .1,0 .2,0 .1,0 .1,0 .1,0 .1,0 .2,0 .1,.1 .1,0 .1,0 .1,0 .2,0 .1,0 .1,0 .1,0 .1,0 .2,0 .1,0 .1,0 .1,0 .1,0 .2,0 .1,0 .1,0 .1,0 .1,0 .2,0 .1,0 .1,0 .1,0 .1,0 .2,0 .1,0 .1,0 .1,0 .1,0 .2,0 .1,0 .1,0 .1,0 .1,0 .2,.1 .1,0 .1,0 .1,0 .1,0 .2,0 .1,0 .1,0 .1,0 .1,0 .2,0 .1,0 .1,0 .1,0 .1,0 .2,0 .1,0 .1,0 .1,0 .1,0 .2,0 .1,0 .1,0 .1,0 .1,0 .2,0 .1,0 .1,0 .1,0 .1,0 .2,0 .1,0 .1,0 .1,0 .1,0 .2,.1 .1,0 .1,0 .1,0 .1,0 .2,0 .1,0 .1,0 .1,0 .1,0 .2,0 .1,0 .1,0 .1,0 .1,0 .2,0 .1,0 .1,0 .1,0 .1,0 .2,0 .1,0 .1,0 .1,0 .1,0 .2,0 .1,0 .1,0 .1,0 .1,0 .2,0 .1,0 .1,0 .1,0 .1,0 .2,0 .1,.1 .1,0 .1,0 .1,0 .2,0 .1,0 .1,0 .1,0 .1,0 .2,0 .1,0 .1,0 .1,0 .1,0 .2,0 .1,0 .1,0 .1,0 .1,0 .2,0 .1,0 .1,0 .1,0 .1,0 .2,0 .1,0 .1,0 .1,0 .1,0 .2,0 .1,0 .1,0 .1,0 .1,0 .2,0 .1,0 .1,.1 .1,0 .1,0 .2,0 .1,0 .1,0 .1,0 .1,0 .2,0 .1,0 .1,0 .1,0 .1,0 .2,0 .1,0 .1,0 .1,0 .1,0 .2,0 .1,0 .1,0 .1,0 .1,0 .2,0 .1,0 .1,0 .1,0 .1,0 .2,0 .1,0 .1,0 .1,0 .1,0 .2,0 .1,0 .1,0 .1,.1 .1,0 .2,0 .1,0 .1,0 .1,0 .1,0 .2,0 .1,0 .1,0 .1,0 .1,0 .2,0 .1,0 .1,0 .1,0 .1,0 .2,0 .1,0 .1,0 .1,0 .1,0 .2,0 .1,0 .1,0 .1,0 .1,0 .2,0 .1,0 .1,0 .1,0 .1,0 .2,0 .1,0 .1,0 .1,0 .1,.1 .2,0 .1,0 .1,0 .1,0 .1,0 .2,0 .1,0 .1,0 .1,0 .1,0 .2,0 .1,0 .1,0 .1,0 .1,0 .2,0 .1,0 .1,0 .1,0 .1,0 .2,0 .1,0 .1,0 .1,0 .1,0 .2,0 .1,0 .1,0 .1,0 .1,0 .2,0 .1,0 .1,0 .1,0 .1,0 .2,.1 .1,0 .1,0 .1,0 .1,0 .2,0 .1,0 .1,0 .1,0 .1,0 .2,0 .1,0 .1,0 .1,0 .1,0 .2,0"/>
</g>
<rect x="49" y="272" width="353" height="212" fill="none" stroke="#000" stroke-width="2"/>
<text x="54" y="29.2" font-family="Liberation Serif, serif" font-size="18" font-weight="bold" fill="#000">a</text>
<text x="53.5" y="301.2" font-family="Liberation Serif, serif" font-size="18" font-weight="bold" fill="#000">b</text>
<text x="49.0" y="248.8" text-anchor="middle" font-family="Liberation Serif, serif" font-size="18" fill="#000">20</text>
<text x="99.4" y="248.8" text-anchor="middle" font-family="Liberation Serif, serif" font-size="18" fill="#000">30</text>
<text x="149.9" y="248.8" text-anchor="middle" font-family="Liberation Serif, serif" font-size="18" fill="#000">40</text>
<text x="200.3" y="248.8" text-anchor="middle" font-family="Liberation Serif, serif" font-size="18" fill="#000">50</text>
<text x="250.7" y="248.8" text-anchor="middle" font-family="Liberation Serif, serif" font-size="18" fill="#000">60</text>
<text x="301.1" y="248.8" text-anchor="middle" font-family="Liberation Serif, serif" font-size="18" fill="#000">70</text>
<text x="351.6" y="248.8" text-anchor="middle" font-family="Liberation Serif, serif" font-size="18" fill="#000">80</text>
<text x="402.0" y="248.8" text-anchor="middle" font-family="Liberation Serif, serif" font-size="18" fill="#000">90</text>
<text x="49.0" y="505.7" text-anchor="middle" font-family="Liberation Serif, serif" font-size="18" fill="#000">20</text>
<text x="99.4" y="505.7" text-anchor="middle" font-family="Liberation Serif, serif" font-size="18" fill="#000">30</text>
<text x="149.9" y="505.7" text-anchor="middle" font-family="Liberation Serif, serif" font-size="18" fill="#000">40</text>
<text x="200.3" y="505.7" text-anchor="middle" font-family="Liberation Serif, serif" font-size="18" fill="#000">50</text>
<text x="250.7" y="505.7" text-anchor="middle" font-family="Liberation Serif, serif" font-size="18" fill="#000">60</text>
<text x="301.1" y="505.7" text-anchor="middle" font-family="Liberation Serif, serif" font-size="18" fill="#000">70</text>
<text x="351.6" y="505.7" text-anchor="middle" font-family="Liberation Serif, serif" font-size="18" fill="#000">80</text>
<text x="402.0" y="505.7" text-anchor="middle" font-family="Liberation Serif, serif" font-size="18" fill="#000">90</text>
<text transform="translate(24.3,167.6) rotate(-90)" font-family="Liberation Serif, serif" font-size="18.5" font-weight="bold" fill="#000">Intensity (a.u.)</text>
<text transform="translate(24.3,429.2) rotate(-90)" font-family="Liberation Serif, serif" font-size="18.5" font-weight="bold" fill="#000">Intensity (a.u.)</text>
<text x="186" y="541.5" textLength="79.5" font-family="Liberation Serif, serif" font-size="18" font-weight="bold" fill="#000">2θ, degree</text>
<line x1="260.7" y1="25.2" x2="301.8" y2="25.2" stroke="#000" stroke-width="1.1"/>
<text x="306.5" y="31.7" font-family="Liberation Serif, serif" font-size="18" fill="#000">Reference</text>
<circle cx="280.8" cy="47.9" r="1.6" fill="#d6d6d6"/>
<text x="306.5" y="54.3" font-family="Liberation Serif, serif" font-size="18" fill="#000">Experiment</text>
<line x1="260.7" y1="70.3" x2="301.8" y2="70.3" stroke="#ff8a1a" stroke-width="1.2"/>
<text x="306.5" y="76.3" font-family="Liberation Serif, serif" font-size="18" fill="#000">Difference</text>
<line x1="277.4" y1="327.9" x2="319" y2="327.9" stroke="#ff5050" stroke-width="1.7"/>
<circle cx="298.3" cy="327.9" r="1.3" fill="#fff" stroke="#999" stroke-width="0.6"/>
<text x="323.5" y="333.4" font-family="Liberation Serif, serif" font-size="18" fill="#000">MgAlB<tspan font-size="13.2" dy="5.3">14</tspan></text>
<line x1="277.4" y1="354.4" x2="319" y2="354.4" stroke="#4040ff" stroke-width="1.3"/>
<circle cx="298.3" cy="354.4" r="1.3" fill="#fff" stroke="#999" stroke-width="0.6"/>
<text x="323.5" y="360.1" font-family="Liberation Serif, serif" font-size="18" fill="#000">MgAl<tspan font-size="13.2" dy="5.3">2</tspan><tspan dy="-5.3">O</tspan><tspan font-size="13.2" dy="5.3">4</tspan></text>
</svg>
</body></html>
